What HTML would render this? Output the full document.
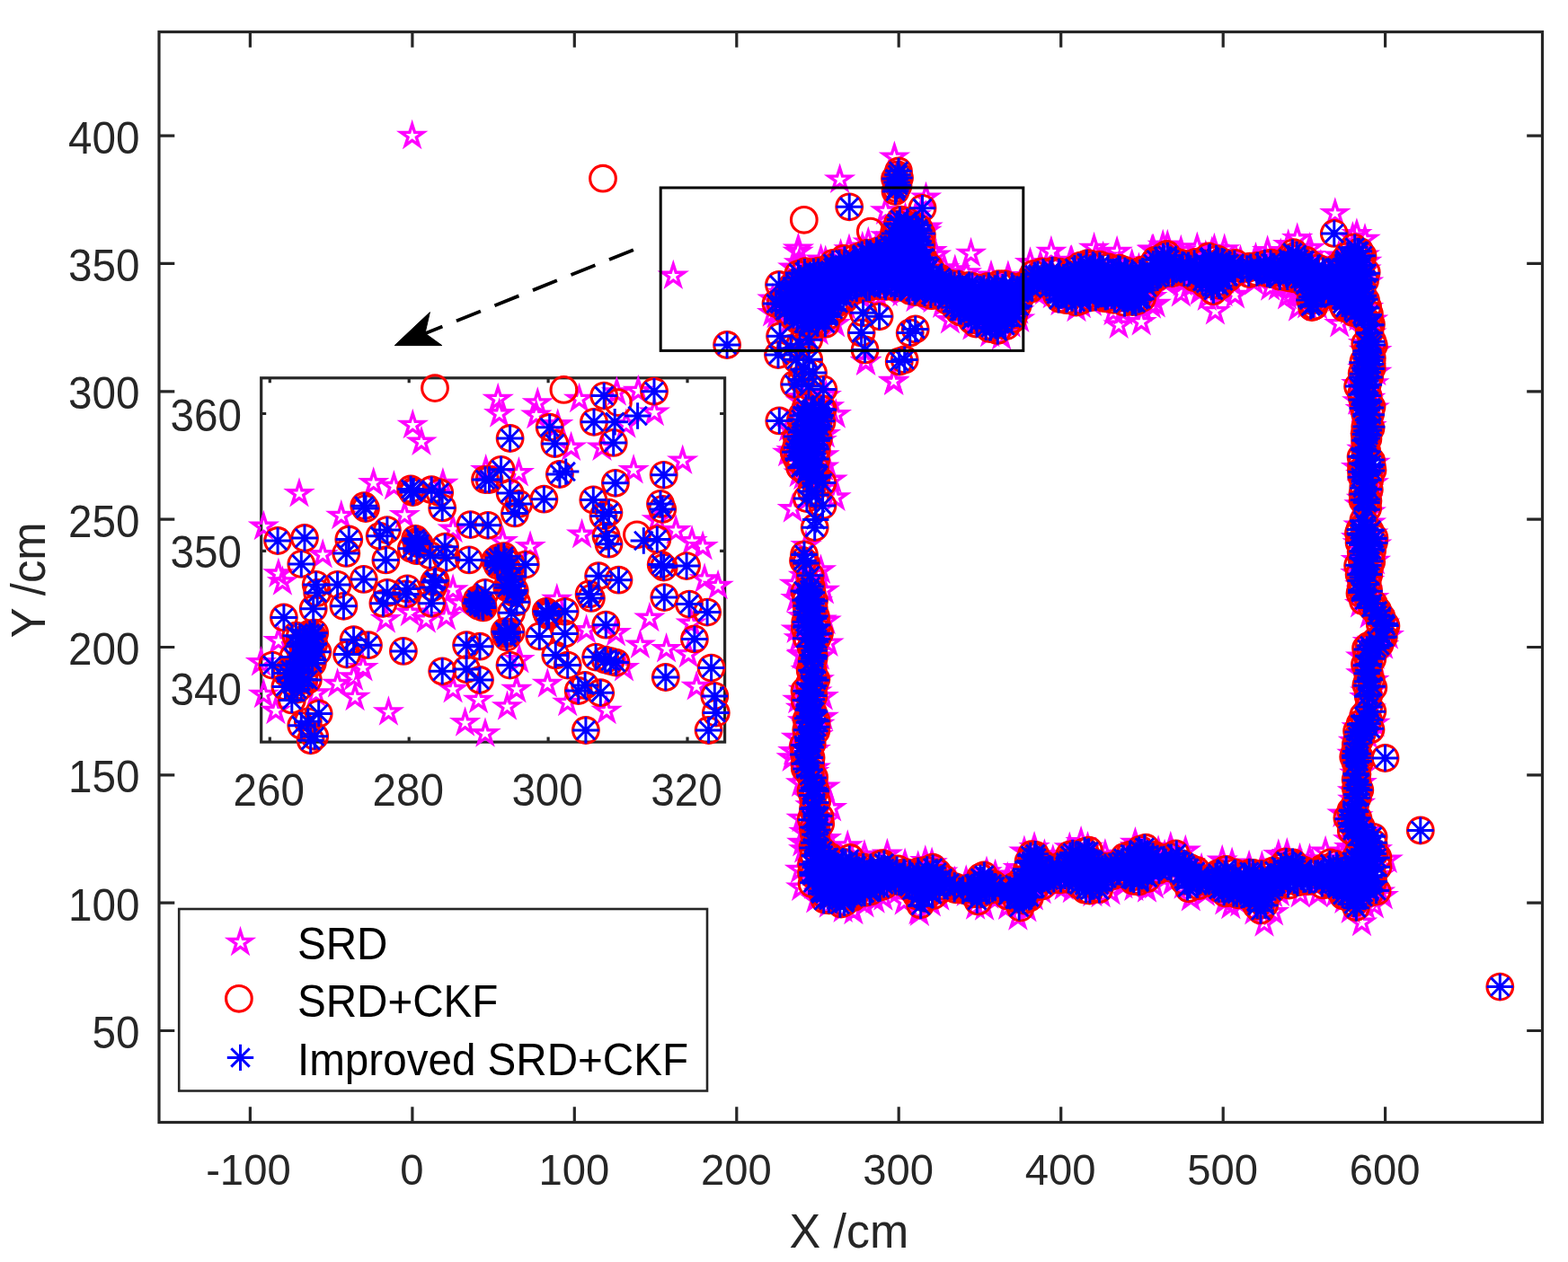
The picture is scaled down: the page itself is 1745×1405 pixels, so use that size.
<!DOCTYPE html>
<html lang="en"><head><meta charset="utf-8"><title>Trajectory comparison: SRD, SRD+CKF, Improved SRD+CKF</title>
<style>html,body{margin:0;padding:0;background:#fff;overflow:hidden}svg{display:block}text{font-family:"Liberation Sans",Arial,Helvetica,sans-serif}</style></head><body>
<svg width="1745" height="1405" viewBox="0 0 1745 1405" role="img" aria-label="Scatter plot of X /cm versus Y /cm comparing SRD, SRD+CKF and Improved SRD+CKF with zoomed inset">
<rect x="0" y="0" width="1745" height="1405" fill="#fff"/>
<marker id="mS" markerUnits="userSpaceOnUse" markerWidth="1" markerHeight="1" refX="0" refY="0" overflow="visible" orient="0"><path d="M0.0 -13.0L2.9 -4.0L12.4 -4.0L4.7 1.5L7.6 10.5L0.0 5.0L-7.6 10.5L-4.7 1.5L-12.4 -4.0L-2.9 -4.0Z" fill="none" stroke="#ff00ff" stroke-width="3.4" stroke-linejoin="miter"/></marker><marker id="mC" markerUnits="userSpaceOnUse" markerWidth="1" markerHeight="1" refX="0" refY="0" overflow="visible" orient="0"><circle cx="0" cy="0" r="14.35" fill="none" stroke="#ff0000" stroke-width="3.1"/></marker><marker id="mA" markerUnits="userSpaceOnUse" markerWidth="1" markerHeight="1" refX="0" refY="0" overflow="visible" orient="0"><path d="M-14.7 0H14.7M0-14.7V14.7M-10.2-10.2L10.2 10.2M-10.2 10.2L10.2-10.2" fill="none" stroke="#0000ff" stroke-width="3"/></marker>
<g id="main-data">
<polyline fill="none" stroke="none" marker-start="url(#mS)" marker-mid="url(#mS)" marker-end="url(#mS)" points="458.7,151.4 749.3,307.2 882.3,566.8 930,554.0 897,607.7 913.5,635.0 995.4,175.1 934.6,200.1 1080.6,282.4 1169.9,280.4 888.1,280.4 1030.5,220.2 966.3,270.3 963.6,402.5 994.7,424.5 888.4,277.1 1485.8,237.7 1443.7,265.7 1509.9,260.7 1294.2,273.4 1243.1,280.4 1217.6,276.4 1332.3,276.0 1351.4,277.4 1314.3,279.4 1282.2,278.4 1380.5,290.4 1408.6,289.4 1352.4,346.6 1245.1,362.2 1270.2,358.6 1432.6,329.5 1490.8,360.6 1314.3,326.5 1374.5,328.5 1286.2,338.5 994.7,425.1 963.6,403.0 864.3,350.4 878.3,359.3 898.7,373.0 904.1,367.0 911.2,369.0 929.6,360.7 938.4,338.9 941.5,340.9 958.6,330.0 977.5,330.4 988.3,326.0 1003.9,326.4 1019,332.4 1024.8,329.0 1038.1,333.3 1048.7,339.1 1057.4,356.7 1082,363.5 1084.1,362.3 1101.7,371.3 1114.6,374.6 1125.1,360.8 1134.7,355.2 1133.8,345.9 1154,326.5 1162.5,324.4 1171.4,328.4 1180,336.4 1198,343.4 1203.3,339.4 1215.4,337.1 1230.5,333.4 1239,347.3 1249.9,347.0 1271.6,343.3 1281.4,339.8 1281.8,330.7 1294,311.6 1300.2,312.8 1316.2,314.5 1323.7,318.1 1335.1,324.9 1343.3,331.1 1361,326.0 1371.8,315.5 1376.3,303.8 1395.7,313.9 1413.7,319.8 1422.3,319.7 1439.2,320.5 1442.2,326.1 1444.5,342.9 1500.6,935.0 1501.7,943.6 1489,956.1 1475.1,948.3 1460.6,961.7 1457.5,956.9 1446.6,956.4 1432.3,950.6 1422.8,951.7 1418.8,961.2 1404.4,964.9 1390.1,964.2 1371.1,961.1 1360.2,958.3 1351.1,971.8 1337.1,967.2 1324.3,961.0 1319.3,947.3 1302.8,943.4 1296.1,952.4 1289.1,947.8 1263.4,942.8 1263.4,938.5 1252.3,951.9 1229.9,951.5 1216,953.0 1210.5,943.5 1203.1,937.6 1190.3,944.0 1190.4,952.3 1171.8,957.8 1162.4,951.8 1151.1,943.6 1139.9,948.1 1133.3,966.8 1130.6,975.7 1121.2,977.3 1107.6,974.2 1098,971.0 1083.6,981.4 1075.2,980.8 1062.3,982.0 1048.7,971.2 1037.1,961.0 1029.8,958.7 1021.7,964.7 1007.1,962.1 989.1,965.2 987.4,951.3 962,952.5 961.9,963.1 943.3,941.9 927.8,950.1 916.2,935.2 919.4,933.8 915.9,915.5 925.6,899.7 910.3,880.1 918.1,876.1 905.6,859.8 907.3,855.3 907.2,834.6 910.1,818.6 911.9,806.5 916.3,798.4 916.2,775.8 908.9,770.2 911.3,757.0 909.2,733.1 912.4,730.9 922,716.1 919.1,691.3 914.2,690.1 909.4,669.8 917.4,657.5 906.9,639.2 894.5,641.5 884.3,650.5 885.9,666.6 892.7,686.7 886.2,701.1 889.3,711.0 892.2,729.7 892.5,728.5 897.2,746.7 894.4,768.4 887.8,779.4 891.4,788.4 893.6,803.0 886.4,821.5 882.8,836.6 881.2,844.0 891.8,854.5 891.6,872.0 899.9,888.6 902,897.0 892.1,911.4 895,926.7 892.8,938.5 894.7,945.9 890.5,968.4 891.7,988.2 905.5,986.2 907.8,1001.5 922.3,1006.9 938.2,1012.0 949.9,1014.3 962,1006.5 974,1001.8 982.9,998.9 1000.1,992.0 1006.2,1003.9 1022.1,1014.4 1023.4,1016.0 1036.3,1005.6 1045.8,998.8 1063.3,990.4 1075.2,994.2 1085.6,1008.9 1095.6,1009.8 1100.8,996.8 1121.6,1009.1 1132.9,1020.8 1142.9,1011.7 1150.3,998.7 1159.1,991.4 1176.8,986.5 1184.2,987.0 1193.4,990.3 1215.9,994.4 1225.1,995.4 1236,992.6 1249.9,985.5 1261.9,988.2 1276.5,989.8 1284.5,985.6 1291.6,974.0 1304.8,982.1 1317.2,985.9 1325.3,999.6 1341,990.1 1341.4,994.1 1362.8,1003.6 1369.8,1008.3 1379.8,1005.6 1395.9,1014.7 1407,1027.9 1417.5,1015.7 1416.7,995.3 1424.4,994.1 1447.1,995.6 1462.1,984.4 1466.9,995.4 1486.6,995.2 1495.9,1002.2 1503.2,1013.0 1515.5,1027.3 1519.7,1008.8 1529.4,1007.7 1539.3,997.6 1535.6,993.1 1534.9,974.5 1544.2,957.1 1532.4,946.0 1520.7,291.5 1518.4,284.2 1519,266.5 1505.4,264.5 1489.9,285.1 1490.7,290.5 1469.9,295.6 1458.5,284.6 1457.7,276.5 1433.7,272.7 1425.3,283.1 1410.6,279.7 1397.5,287.6 1395.9,291.3 1376,291.0 1362.7,277.9 1348.8,281.0 1341.8,285.0 1325.1,290.4 1313.9,286.3 1299.3,273.4 1283.5,278.3 1280.1,291.0 1267.4,299.0 1259.7,294.2 1245.9,293.9 1227.6,286.2 1219.8,284.9 1192.6,290.5 1191.4,291.0 1176.6,293.1 1157.8,295.6 1146.5,292.8 1138.1,310.1 1134.5,317.5 1121.9,307.8 1103,307.3 1085.6,317.9 1075.3,303.9 1062.8,301.0 1050.8,298.9 1041.4,284.1 1037.1,279.8 1030.9,257.4 1032,253.2 1019.3,239.9 1007.5,243.0 985.6,235.0 994.3,251.4 985.7,263.0 975.3,275.1 959.8,275.2 945,278.0 935.6,283.6 918.7,291.1 913.6,289.2 889.4,292.9 882.8,298.3 884,308.1 871.3,326.5 859.9,333.1 859.6,348.6 891.3,446.9 888,461.5 877.6,476.6 881.1,502.0 876.6,504.4 889.2,527.3 893.8,530.4 906.6,540.9 907.4,535.7 926.1,534.3 916.7,520.3 917,506.9 914.2,490.7 918.4,483.6 930.3,461.8 922.6,453.0 919.3,440.6 892.4,443.0 1457,333.2 1454.6,339.5 1466.5,340.5 1472.7,325.9 1488.5,332.2 1502.4,346.0 1512,353.5 1518.2,369.4 1517.5,382.7 1518.4,390.4 1517,410.8 1509.8,427.6 1510.7,446.9 1514.3,455.7 1518.5,466.0 1519.8,487.6 1515.9,500.4 1509.6,520.7 1514.7,528.8 1515.4,555.5 1513,562.0 1512,585.1 1509.5,599.0 1511.2,605.0 1509.2,623.7 1508.9,638.7 1513.8,651.9 1513.6,672.7 1524.1,684.6 1540.5,694.3 1527,713.4 1522.3,714.7 1514.7,731.3 1514.8,750.0 1519.9,770.3 1518.8,776.7 1518.4,799.5 1510.1,810.0 1506.4,825.5 1505,839.4 1507.7,861.4 1505.5,881.0 1505.7,890.4 1494,906.1 1503.2,921.6 1505.1,926.7 1521.7,925.8 1510.8,909.0 1513.7,894.5 1515.2,871.8 1514.8,859.9 1512.3,844.8 1510.4,831.6 1522.3,818.6 1530,805.4 1525.3,789.2 1525.9,770.1 1528.8,757.8 1529.9,735.7 1530.1,730.1 1539.6,718.8 1545.4,707.8 1534.9,684.7 1528.8,665.8 1521.8,657.4 1523.7,646.6 1530.4,624.5 1531.7,606.2 1527.7,594.2 1525.5,582.1 1525.3,570.2 1522.6,545.0 1528.4,537.9 1530.1,515.4 1520.3,498.8 1523.1,488.0 1526.1,474.6 1529.2,454.2 1524.9,443.5 1528.8,427.0 1531.8,414.4 1531.8,390.7 1525.8,371.3 1527.6,356.1 1522.6,342.7 1517,333.2 1522.6,314.2 1520,300.2"/>
<polyline fill="none" stroke="none" marker-start="url(#mC)" marker-mid="url(#mC)" marker-end="url(#mC)" points="894.8,244.8 968.8,257.6 671,198.7 809.1,384.0 867.3,468.4 1541.5,844.0 1580.8,924.5 1669.3,1098.6 999,194.5 998,203.0 997.5,210.0 1001,198.0 996,199.0 999.5,206.5 996.5,213.0 1000,190.5 945.2,230.3 1026.5,231.8 1484.8,259.9 960.6,348.3 978.6,352.3 958.6,370.4 962.6,389.4 1018.7,366.4 1012.7,370.4 1006.7,400.5 1000.7,402.5 897.9,555.1 915.5,537.5 915.5,562.9 906.7,587.2 894,624.2 895,617.5 897,627.0 901.8,640.8 903,547.0 908,551.0 868.1,374.2 863.5,338.1 867,317.0 890.2,383.2 900.2,378.2 866,395.0 886.2,400.3 894.2,411.3 900.2,400.3 892.2,422.4 916.3,433.4 900,430.0 880,388.0 905,415.0 884,428.0 868.8,337.8 874.3,345.6 881.7,352.2 887.7,356.6 893.7,359.6 902,362.9 910.3,359.8 918.9,360.7 921.9,351.5 928.5,345.0 932.2,337.2 940.1,333.2 944.1,322.5 954,322.6 964.1,319.4 968,319.6 978,318.4 987,318.8 995.4,319.5 1002.1,319.8 1013.2,323.9 1018.4,325.1 1028.3,326.4 1037,329.2 1044.9,327.8 1053.7,334.6 1062.1,340.9 1067.5,346.7 1069.7,347.7 1081.4,356.5 1086.1,360.5 1098.5,363.4 1101.4,366.0 1109.9,367.9 1119.9,363.1 1126.9,355.4 1128.1,350.8 1132.6,340.3 1134.9,332.3 1140.6,324.3 1146.9,321.7 1153.6,315.1 1166.1,312.7 1169.4,318.7 1176,328.6 1179.3,332.7 1187.1,334.2 1197.6,336.6 1202.8,334.7 1213.7,331.2 1218.8,330.3 1229.5,332.2 1233.3,330.8 1239.1,333.8 1250.9,336.6 1260.4,336.0 1264.6,335.5 1271.1,331.7 1271.8,323.8 1277.6,318.4 1283.1,311.5 1288.8,308.0 1299.5,303.8 1304.4,304.3 1319,303.4 1322.1,304.5 1329.3,309.2 1338.9,313.7 1341.7,316.8 1350.3,324.2 1357.9,318.0 1360.4,313.9 1367.4,309.2 1373,304.5 1382,299.0 1390.3,305.0 1397.6,303.2 1410.6,304.3 1413.7,305.0 1425.1,307.9 1434.1,309.3 1440.7,310.4 1447.3,311.6 1452.5,316.3 1459.1,329.8 1458.3,334.8 1460,342.1 1462.6,340.8 1465.3,333.2 1470.9,325.4 1477.3,325.4 1485.4,329.5 1494.2,339.4 1495.8,343.0 1506.3,348.2 1514.5,351.1 1517.9,353.7 1525.9,361.0 1524.5,369.6 1519.3,382.5 1521.1,390.9 1520.6,395.7 1517.4,402.6 1515.7,415.4 1517.5,420.5 1511.1,430.2 1515.1,438.2 1516.1,444.2 1517.6,452.9 1519.3,461.1 1521.9,467.8 1525.2,460.5 1526.5,452.9 1523.5,447.6 1522.5,440.9 1522,427.3 1524.2,419.0 1526.7,409.8 1526.5,404.3 1526.8,398.6 1528.8,384.8 1527.6,380.4 1523.7,369.2 1524.8,363.1 1523.9,349.3 1522.1,341.8 1520,334.3 1516.4,328.9 1515.7,319.8 1519,312.5 1520.7,302.9 1515.4,294.4 1516.5,284.4 1513.3,279.8 1506.5,275.3 1499.1,285.2 1496,289.6 1488.2,297.9 1481.2,303.8 1471.7,301.7 1466.8,298.3 1459.1,294.3 1453.3,289.6 1442.4,284.3 1439.7,281.1 1435.1,286.8 1426.8,293.6 1414.8,292.7 1408.5,293.9 1398.9,295.9 1390.7,296.7 1389.1,298.8 1374.8,292.8 1366.8,294.7 1359.2,290.8 1354.6,288.5 1345.1,285.5 1338.5,293.2 1330.4,292.0 1322.3,295.2 1314.7,293.0 1307.6,290.9 1298.5,283.0 1294.8,285.4 1285.7,289.6 1283.3,293.2 1270.7,300.6 1268.4,304.1 1260.1,304.6 1251.8,300.9 1245.8,298.7 1233.7,297.4 1223.9,294.7 1215,294.2 1210.5,293.2 1202.5,295.6 1195.2,300.1 1188,305.2 1179.2,302.6 1172.1,301.7 1159.6,302.4 1150.2,304.8 1151.2,311.2 1140.8,317.9 1136.8,318.7 1125.2,318.9 1117.9,316.2 1111.6,316.2 1099.3,318.9 1095.9,320.8 1082.9,319.1 1078.4,318.0 1065.9,316.3 1057.6,315.6 1050.4,313.1 1045.8,309.5 1037.5,302.6 1034,296.8 1027.4,287.1 1024.9,277.0 1025.4,271.8 1025.9,261.1 1022.7,254.0 1018.6,251.3 1009.5,246.1 1002.5,244.7 998.7,249.3 995,259.1 996.5,267.8 989.1,271.9 986.5,277.0 976.6,279.7 965.6,281.6 959,284.3 951.1,287.3 938.7,287.9 933.2,293.0 927.3,292.8 920,299.5 911.2,301.7 906.6,302.8 896.2,302.1 888.2,305.2 885.9,314.4 881,318.7 876.4,326.2 872.5,333.6 1519,500.7 1514.6,508.8 1515.1,517.2 1514.9,524.0 1515.3,530.2 1517.3,541.9 1516.5,549.6 1516.6,557.4 1522.1,566.1 1519.6,558.4 1522.4,557.5 1523.8,545.3 1524.1,534.8 1527.5,523.5 1526.7,517.3 1526.2,513.1 1521.1,501.7 1517.4,579.2 1513.2,589.9 1512,593.8 1512.6,604.3 1514.7,614.5 1515.6,623.0 1511.1,629.5 1512.6,639.6 1515.1,647.0 1514.6,655.6 1513.5,660.6 1517,669.3 1527,676.6 1533.8,685.2 1537.4,686.8 1533.3,679.5 1528.8,671.9 1522,665.1 1523.1,657.3 1521.7,649.1 1523.2,640.3 1524.2,630.5 1526.2,625.4 1527.1,613.2 1528.8,604.3 1529.4,598.5 1524.9,591.3 1518,585.0 1536.9,709.7 1530.8,713.6 1523.5,718.6 1520.1,721.7 1521.4,729.5 1519,739.8 1522,748.7 1522.1,757.7 1520.5,762.7 1522.9,774.3 1522.9,775.6 1528.3,765.6 1525.9,757.3 1523.5,747.7 1523.3,738.2 1527.2,733.8 1532.1,720.4 1535.6,717.5 1539.8,709.3 1523.3,787.0 1517.3,796.5 1513.7,805.7 1510.1,813.9 1511,820.1 1508.9,828.5 1512.8,824.2 1515.7,817.0 1525.5,812.3 1523.2,801.9 1527.3,792.0 1510.4,861.7 1508.7,868.1 1508.9,878.3 1510.4,885.5 1507.2,897.4 1503.3,902.4 1499.4,910.4 1503.7,916.4 1503.8,925.0 1510.4,930.8 1516.3,940.2 1512.6,946.8 1508.4,954.9 1504.4,960.7 1497.7,964.2 1486.1,962.0 1480.2,960.4 1471.4,966.7 1467.4,970.4 1459.3,972.3 1450.3,968.3 1441.8,963.4 1439,960.3 1430.9,959.4 1425.9,965.2 1417.7,969.1 1413.7,974.8 1403.6,972.9 1394.7,971.8 1391,971.6 1383.4,974.5 1374.1,971.4 1364,968.0 1355.6,972.1 1353.6,974.4 1343.3,978.5 1332.7,976.0 1331.6,969.0 1324.1,966.0 1316.5,961.7 1308.5,950.4 1302.1,953.7 1295.6,956.6 1288.9,954.2 1284.1,951.7 1275.1,943.7 1268.8,945.6 1257,951.8 1251.2,954.0 1244.4,961.8 1236.3,964.4 1230,964.8 1222.4,963.4 1216.6,959.7 1211.8,946.6 1207.5,947.9 1194.3,950.8 1190.2,951.7 1187.3,960.6 1179.7,964.2 1168.4,967.7 1161.3,962.2 1152.5,953.7 1152.7,951.9 1148,951.2 1144.6,958.9 1142.9,968.1 1137.6,978.9 1129.4,986.1 1123.6,989.1 1112.9,990.5 1107.4,985.8 1105.1,984.0 1095,974.4 1091.1,976.5 1085.4,985.6 1076.5,988.8 1072.4,991.0 1082.7,995.4 1088.5,1003.4 1090.5,995.5 1098.4,991.6 1103.8,990.5 1114.5,990.6 1121.5,997.8 1130.7,1000.7 1135.6,1010.6 1139.3,1002.5 1145.8,999.6 1152.2,988.1 1159.7,986.6 1165.8,979.3 1171.8,979.4 1179.4,979.6 1190.2,979.3 1201,985.4 1207.5,990.7 1212.6,991.6 1223.3,989.9 1225.4,980.6 1230.3,977.4 1238.2,975.2 1251.3,973.6 1259.5,976.8 1261.4,980.8 1267.4,981.5 1276.4,978.2 1282.2,969.9 1289,968.8 1303.9,966.7 1308.3,968.3 1315.3,973.6 1317.5,980.7 1322.9,989.3 1333.6,986.2 1343.3,982.1 1346.8,980.6 1357.2,989.4 1363.6,994.4 1372.1,994.0 1377.8,996.3 1382.9,995.4 1391.6,999.4 1398.4,1008.6 1403,1013.4 1407.3,1007.0 1406.6,998.8 1415.1,991.3 1419.1,983.6 1426.8,983.3 1434.7,985.5 1444.7,982.2 1456.2,981.1 1460,979.3 1472.4,985.4 1479.5,984.3 1489.2,989.5 1494.7,997.3 1499,998.6 1507.1,1005.2 1509.1,1010.0 1509.8,1002.0 1515.3,997.3 1524.6,993.9 1532.6,992.3 1528.1,981.8 1527.8,975.8 1533.5,965.3 1533.5,954.6 1529.9,949.7 1528.5,938.6 1528.6,931.8 1515.1,925.8 1514.9,920.4 1511.4,911.1 1507.2,902.4 1508.1,895.9 1511.1,887.3 1513.3,879.6 1511,873.0 1509.9,862.3 1055.7,984.2 1049.5,977.6 1043.5,971.3 1038,965.7 1030.9,968.6 1022.9,969.9 1011,972.1 1007.2,970.9 999.1,967.4 988.4,968.7 982.4,961.1 979.5,962.2 968.6,966.4 961.1,965.3 953.1,965.0 946.2,955.0 938.8,959.9 929.8,959.4 923.7,953.6 916.5,948.2 911.9,943.6 908.4,934.1 908.9,924.5 913.2,917.3 912.4,909.1 905.4,897.9 909,892.5 905,901.9 902.8,912.0 904.8,922.2 905.6,927.8 907.2,939.0 904.5,943.0 905.6,952.6 903.2,962.3 903,971.8 905.3,974.5 903.6,983.9 915.3,994.2 917.5,1001.6 922.6,1002.3 935.9,1006.6 940,1004.8 949.2,999.2 951.2,996.3 962.1,993.9 968.7,992.6 980,987.5 984.7,985.4 997.4,980.3 1000.7,981.6 1013.6,986.0 1014.6,989.8 1020.4,997.5 1024.2,1007.3 1029.2,1000.1 1038.8,997.0 1046.2,990.7 1052.4,987.0 906.1,865.3 901.9,857.8 902.2,849.6 902.6,843.4 902,831.3 903.7,828.0 908.2,814.0 908.6,808.4 908.6,802.5 905.2,793.4 902.8,778.5 905.5,775.0 906,762.4 908.4,756.4 905,747.2 901.7,746.6 906,753.4 900.8,761.5 895.5,769.1 895.8,780.4 900.9,790.3 897.6,801.0 898.9,804.4 897.3,812.5 899.8,822.9 894.1,829.5 895.1,839.7 895.5,850.4 895.8,855.5 901.9,864.1 905.4,723.7 909.4,710.4 912,704.9 909.1,696.4 908,686.5 905.7,676.5 906,668.4 903.6,659.8 902.8,653.2 895.5,658.9 897.1,667.6 897.7,674.9 898.3,681.0 896.2,692.6 895.9,699.4 897.9,710.6 902.7,720.4 890.1,520.2 897.3,526.2 904.3,532.3 908.7,531.4 908.7,529.0 906.9,519.8 908.3,512.1 908.8,500.4 909.6,491.5 910.8,488.9 910.5,473.9 914.5,470.0 915.7,455.2 914.6,455.6 905.5,455.6 896.9,452.9 892.9,461.7 891.1,467.1 891.4,481.6 886.6,486.3 886.2,497.8 883.8,504.2 886.9,510.8 1519.3,475.3 1522.2,478.5 1518.7,483.1 1519.1,491.0 1535.8,695.1 1508.2,836.3 1506.2,842.5 1509,842.2 1508.3,848.2 1063.4,987.3 907.6,880.1 906.7,879.2 905.6,733.0 905.6,729.7 905.3,729.6 903.5,736.7 906.8,877.4 902.5,880.2 904.5,886.0 1063.5,990.3 1513.1,848.0 1512.9,842.8 1509.9,839.2 1542.4,697.0 1541.5,695.0 1522.4,488.4 1522.5,484.0 1523.1,477.6 1525.5,476.7"/>
<path fill="#0000ff" stroke="none" fill-rule="evenodd" d="M1532.0 721.4L1532.3 721.1L1532.5 720.8L1532.7 720.5L1532.8 720.1L1532.9 719.7L1533.0 719.4L1533.1 719.0L1533.1 718.6L1533.0 718.2L1533.0 717.8L1532.9 717.4L1532.7 717.1L1532.6 716.7L1532.3 716.4L1532.1 716.1L1531.8 715.8L1531.5 715.6L1531.2 715.3L1530.9 715.1L1530.5 715.0L1530.2 714.9L1529.8 714.8L1529.4 714.7L1529.0 714.7L1528.6 714.7L1528.2 714.8L1527.9 714.9L1527.5 715.0L1522.1 717.3L1521.8 717.5L1521.4 717.7L1521.1 718.0L1520.8 718.3L1520.5 718.6L1520.3 719.0L1519.9 719.7L1519.7 720.0L1519.5 720.4L1519.4 720.8L1519.3 721.2L1519.3 721.6L1519.3 722.0L1519.4 722.4L1520.2 727.5L1520.2 727.5L1520.3 727.9L1520.4 728.3L1520.5 728.6L1520.7 729.0L1520.9 729.3L1521.1 729.6L1521.4 729.9L1521.7 730.2L1522.0 730.4L1522.3 730.6L1522.7 730.8L1523.0 730.9L1523.4 731.0L1523.8 731.0L1524.2 731.1L1524.6 731.1L1524.9 731.0L1525.3 730.9L1525.7 730.8L1526.0 730.6L1526.4 730.4L1526.7 730.2L1527.0 729.9L1527.2 729.7L1527.5 729.4L1527.7 729.0L1527.9 728.7L1528.0 728.3L1528.3 727.4L1528.8 726.0L1529.5 724.8L1530.2 723.6L1531.1 722.4ZM1509.5 903.0L1509.5 902.6L1509.5 902.2L1509.4 901.9L1509.3 901.5L1509.1 901.1L1508.9 900.8L1508.7 900.5L1508.5 900.2L1508.2 899.9L1507.9 899.7L1507.6 899.4L1507.2 899.3L1506.9 899.1L1506.5 899.0L1506.1 898.9L1505.7 898.9L1505.3 898.9L1504.9 899.0L1504.5 899.0L1504.2 899.1L1503.8 899.3L1503.5 899.5L1503.2 899.7L1502.9 899.9L1502.6 900.2L1502.3 900.5L1502.1 900.8L1501.6 901.6L1501.5 901.9L1499.9 905.0L1499.8 905.4L1499.7 905.8L1499.6 906.2L1499.5 906.6L1499.5 907.0L1499.6 907.4L1499.6 907.8L1500.6 911.7L1500.8 912.2L1504.0 920.3L1504.2 920.6L1507.3 926.9L1507.5 927.3L1510.9 932.3L1511.6 933.6L1512.3 934.9L1512.7 936.2L1513.1 937.6L1513.3 939.0L1513.4 940.5L1513.4 941.9L1513.2 943.3L1512.9 944.7L1512.4 946.1L1511.8 947.5L1507.9 955.3L1507.1 956.7L1506.3 957.9L1505.3 959.0L1504.2 960.0L1503.1 960.9L1501.8 961.7L1500.5 962.4L1499.2 962.9L1497.7 963.3L1496.3 963.6L1494.8 963.7L1493.3 963.7L1491.9 963.5L1490.5 963.2L1489.1 962.7L1487.6 962.1L1485.2 960.9L1484.8 960.7L1484.5 960.6L1483.3 960.2L1482.9 960.1L1482.5 960.1L1482.2 960.1L1481.8 960.1L1481.4 960.1L1481.0 960.2L1480.7 960.3L1480.3 960.5L1479.8 960.7L1479.4 961.0L1479.1 961.2L1478.8 961.5L1473.0 967.3L1471.9 968.3L1470.7 969.2L1469.5 969.9L1468.2 970.5L1466.8 971.0L1465.4 971.4L1464.0 971.6L1462.6 971.7L1461.1 971.7L1459.7 971.5L1458.3 971.2L1456.9 970.7L1455.5 970.1L1447.7 966.2L1446.2 965.4L1445.0 964.5L1443.8 963.5L1442.7 962.2L1437.9 956.4L1437.6 956.1L1437.3 955.9L1437.0 955.6L1436.7 955.4L1436.3 955.3L1435.9 955.2L1435.6 955.1L1435.2 955.0L1434.8 955.0L1434.4 955.0L1434.0 955.1L1433.6 955.2L1433.3 955.3L1432.9 955.5L1432.6 955.7L1432.2 955.9L1432.0 956.2L1429.5 958.6L1429.3 958.9L1421.9 968.0L1420.9 969.2L1419.9 970.2L1418.7 971.1L1417.5 971.8L1416.2 972.5L1414.8 973.0L1413.4 973.4L1412.0 973.6L1410.5 973.7L1409.0 973.7L1407.6 973.5L1406.2 973.2L1404.8 972.7L1403.4 972.1L1398.4 969.6L1398.0 969.4L1397.7 969.3L1397.3 969.2L1396.9 969.2L1396.5 969.2L1396.2 969.2L1394.3 969.4L1393.9 969.4L1393.5 969.5L1393.2 969.7L1385.7 972.6L1384.3 973.1L1382.9 973.5L1381.5 973.7L1380.1 973.7L1378.7 973.7L1377.3 973.5L1375.9 973.1L1374.4 972.6L1364.5 968.7L1362.9 968.0L1362.5 967.9L1362.1 967.8L1361.7 967.7L1361.4 967.7L1361.0 967.7L1360.6 967.8L1360.2 967.9L1359.9 968.0L1359.5 968.2L1359.2 968.4L1358.9 968.6L1358.6 968.9L1358.3 969.1L1358.1 969.5L1357.3 970.7L1356.3 971.9L1355.4 972.9L1354.3 973.9L1353.1 974.7L1351.9 975.5L1350.6 976.1L1349.3 976.6L1348.6 976.7L1348.2 976.9L1347.9 977.0L1347.5 977.2L1347.2 977.4L1346.9 977.7L1346.6 978.0L1346.3 978.3L1346.1 978.6L1346.0 979.0L1345.8 979.4L1345.7 979.7L1345.6 980.1L1345.6 980.5L1345.6 980.9L1345.7 981.3L1345.8 981.7L1345.9 982.1L1346.1 982.5L1346.3 982.8L1346.5 983.1L1346.8 983.4L1347.1 983.7L1347.4 983.9L1347.7 984.1L1348.1 984.3L1349.2 984.8L1350.6 985.5L1351.8 986.3L1353.0 987.3L1354.1 988.4L1357.0 991.6L1357.2 991.9L1357.5 992.1L1357.8 992.4L1358.1 992.5L1358.5 992.7L1358.8 992.8L1359.2 992.9L1362.9 993.6L1364.3 994.0L1365.7 994.5L1372.2 997.1L1372.6 997.2L1373.0 997.3L1373.3 997.4L1373.7 997.4L1380.0 997.4L1381.5 997.5L1383.0 997.7L1384.4 998.0L1385.7 998.5L1387.0 999.1L1388.3 999.8L1389.5 1000.7L1399.4 1008.6L1400.6 1009.7L1400.9 1009.9L1401.2 1010.1L1401.6 1010.3L1401.9 1010.4L1402.3 1010.5L1402.7 1010.6L1403.1 1010.7L1403.4 1010.6L1403.8 1010.6L1404.2 1010.5L1404.6 1010.4L1404.9 1010.3L1405.3 1010.1L1405.6 1009.9L1405.9 1009.6L1406.2 1009.4L1406.4 1009.1L1406.6 1008.8L1406.8 1008.4L1407.0 1008.1L1407.1 1007.7L1407.2 1007.3L1407.4 1006.0L1407.7 1004.4L1408.2 1003.0L1408.8 1001.6L1412.8 993.7L1413.5 992.3L1414.4 991.1L1415.4 990.0L1416.5 988.9L1417.7 988.0L1419.0 987.2L1420.3 986.5L1421.8 986.0L1423.2 985.7L1424.7 985.4L1426.3 985.3L1437.5 985.3L1437.8 985.3L1447.1 984.6L1447.5 984.5L1447.9 984.4L1455.9 982.0L1457.4 981.6L1458.9 981.4L1460.3 981.3L1461.8 981.4L1463.4 981.6L1473.2 983.6L1474.9 984.1L1476.5 984.7L1478.2 985.5L1488.0 991.4L1489.5 992.4L1497.3 998.3L1498.5 999.3L1499.4 1000.2L1500.3 1001.3L1501.2 1002.5L1503.8 1006.7L1504.0 1007.0L1504.3 1007.3L1504.6 1007.6L1504.9 1007.9L1505.2 1008.1L1505.6 1008.2L1506.0 1008.4L1506.3 1008.5L1506.7 1008.6L1507.1 1008.6L1507.5 1008.6L1507.9 1008.5L1508.3 1008.4L1508.7 1008.3L1509.1 1008.1L1509.4 1007.9L1509.7 1007.7L1510.0 1007.4L1510.3 1007.1L1510.5 1006.8L1510.7 1006.4L1510.8 1006.2L1511.5 1004.9L1512.2 1003.7L1513.1 1002.6L1514.0 1001.6L1515.1 1000.7L1516.3 999.8L1522.1 995.9L1523.5 995.1L1524.8 994.5L1526.2 994.0L1527.6 993.7L1527.7 993.6L1528.0 993.6L1528.4 993.5L1528.8 993.3L1529.1 993.1L1529.4 992.9L1529.7 992.7L1530.0 992.4L1530.3 992.1L1530.5 991.8L1530.7 991.5L1530.8 991.1L1530.9 990.7L1531.0 990.4L1531.1 990.0L1531.1 989.6L1531.1 989.2L1531.0 988.8L1530.9 988.5L1530.7 988.1L1530.5 987.6L1530.0 986.1L1529.7 984.5L1529.6 983.0L1529.6 981.4L1529.8 979.7L1531.6 968.6L1531.7 968.2L1532.4 959.8L1532.4 959.4L1532.4 959.0L1532.3 958.6L1529.9 947.5L1529.6 945.1L1528.9 935.0L1528.8 934.6L1528.7 934.2L1528.6 933.8L1528.4 933.5L1527.6 931.8L1527.4 931.4L1527.2 931.1L1527.0 930.8L1526.7 930.6L1526.4 930.3L1526.1 930.1L1520.9 927.0L1519.6 926.2L1518.6 925.3L1517.6 924.3L1516.7 923.3L1515.9 922.1L1515.2 920.9L1514.5 919.6L1510.6 909.7L1510.1 908.4L1509.8 907.0L1509.6 905.7L1509.5 904.3ZM1521.1 583.0L1520.9 582.6L1520.6 582.3L1520.4 582.0L1520.1 581.8L1519.8 581.5L1519.4 581.3L1519.1 581.2L1518.7 581.0L1518.3 580.9L1518.0 580.9L1517.6 580.9L1517.2 580.9L1516.8 580.9L1516.4 581.0L1516.0 581.1L1515.7 581.3L1515.4 581.5L1515.0 581.7L1514.7 582.0L1514.5 582.2L1514.2 582.6L1512.3 585.3L1512.1 585.6L1511.9 586.0L1511.8 586.3L1511.7 586.7L1511.6 587.0L1510.7 593.2L1510.7 593.6L1510.7 593.9L1510.7 594.3L1510.8 594.6L1513.1 605.3L1513.3 606.7L1514.3 614.6L1514.4 616.3L1514.4 617.9L1514.1 619.6L1512.6 627.0L1512.6 627.3L1512.6 627.7L1512.6 628.1L1513.4 639.5L1513.4 639.7L1514.4 655.6L1514.4 656.7L1514.4 664.2L1514.4 664.6L1514.5 664.9L1514.6 665.3L1514.7 665.6L1514.8 666.0L1516.1 668.4L1516.3 668.8L1516.5 669.1L1516.8 669.5L1517.1 669.7L1518.3 670.8L1518.7 671.0L1519.0 671.2L1519.4 671.4L1519.7 671.5L1520.1 671.6L1520.5 671.7L1520.9 671.7L1521.3 671.7L1521.7 671.6L1522.1 671.5L1522.4 671.4L1522.8 671.2L1523.1 671.0L1523.5 670.8L1523.7 670.5L1524.0 670.2L1524.2 669.9L1524.4 669.6L1524.6 669.2L1524.7 668.8L1524.8 668.5L1524.9 668.1L1524.9 667.7L1524.9 667.3L1524.8 666.9L1524.7 666.5L1524.6 666.1L1524.5 665.9L1524.1 664.6L1523.8 663.3L1523.6 661.8L1522.6 650.0L1522.5 648.2L1522.7 646.4L1524.5 633.8L1524.5 633.2L1524.5 620.6L1524.6 619.0L1524.9 617.5L1525.2 616.1L1525.8 614.5L1530.6 603.3L1530.8 602.9L1530.9 602.5L1530.9 602.1L1531.0 601.2L1531.0 600.9L1531.0 600.5L1531.0 600.2L1530.9 599.8L1530.8 599.5L1530.6 599.1L1530.5 598.8L1521.7 584.2ZM1526.9 381.9L1526.9 381.5L1526.7 381.1L1526.6 380.8L1526.4 380.4L1526.2 380.1L1525.9 379.8L1525.6 379.5L1525.3 379.3L1525.0 379.1L1524.6 378.9L1524.3 378.8L1523.9 378.7L1523.5 378.6L1523.1 378.6L1522.7 378.6L1522.3 378.6L1521.9 378.7L1521.6 378.8L1521.2 379.0L1520.9 379.2L1520.6 379.4L1520.3 379.6L1520.0 379.9L1519.7 380.2L1519.5 380.6L1519.3 380.9L1519.2 381.3L1519.1 381.7L1519.0 382.1L1517.7 392.3L1517.7 392.4L1515.8 412.1L1515.5 413.9L1512.2 429.6L1512.2 430.0L1512.1 430.3L1512.1 430.7L1512.2 431.1L1514.2 443.5L1514.4 445.2L1515.1 456.1L1515.1 456.5L1515.2 456.9L1515.4 457.3L1515.5 457.7L1515.7 458.0L1518.0 461.4L1518.2 461.7L1518.5 462.0L1518.8 462.3L1519.1 462.5L1519.4 462.7L1519.8 462.9L1520.1 463.0L1520.5 463.1L1520.9 463.2L1521.3 463.2L1521.7 463.2L1522.0 463.1L1522.4 463.0L1522.8 462.9L1523.1 462.7L1523.5 462.6L1523.8 462.3L1524.1 462.1L1524.4 461.8L1524.6 461.5L1524.8 461.2L1525.0 460.8L1525.1 460.5L1525.2 460.1L1525.3 459.7L1525.3 459.3L1525.3 458.9L1524.6 447.0L1524.6 446.6L1524.0 430.6L1524.0 429.3L1524.1 428.0L1526.1 412.9L1526.3 411.5L1528.7 400.2L1528.8 399.8L1528.8 399.5L1528.8 399.1L1528.1 388.6L1528.0 388.3ZM1521.4 503.4L1521.2 503.1L1521.0 502.8L1520.7 502.5L1520.4 502.2L1520.1 502.0L1519.8 501.8L1519.4 501.6L1519.0 501.5L1518.6 501.4L1518.3 501.4L1517.9 501.3L1517.5 501.4L1517.1 501.4L1516.7 501.5L1516.3 501.7L1516.0 501.8L1515.6 502.0L1515.3 502.3L1515.0 502.5L1514.8 502.8L1514.5 503.2L1514.3 503.5L1514.2 503.9L1514.1 504.2L1514.0 504.6L1513.9 505.0L1513.4 511.4L1513.4 511.4L1512.6 522.6L1512.6 523.0L1512.6 523.4L1512.7 523.8L1515.1 535.1L1515.3 536.5L1515.8 540.1L1515.8 540.5L1515.9 540.8L1516.1 541.2L1516.3 541.5L1516.5 541.9L1516.7 542.2L1517.0 542.5L1517.3 542.7L1517.6 543.0L1517.9 543.1L1518.3 543.3L1518.7 543.4L1519.1 543.5L1519.5 543.6L1519.9 543.6L1520.2 543.5L1520.6 543.5L1521.0 543.4L1521.4 543.2L1521.7 543.0L1522.1 542.8L1522.4 542.6L1522.6 542.3L1522.9 542.0L1523.1 541.7L1523.3 541.3L1523.5 541.0L1523.6 540.6L1523.7 540.2L1523.7 539.9L1525.7 527.9L1525.9 527.1L1527.9 517.9L1527.9 517.5L1528.0 517.1L1527.9 516.7L1527.9 516.3L1527.8 515.9L1526.9 512.8L1526.8 512.5L1526.6 512.2L1526.5 511.9L1521.7 504.0ZM1526.5 797.7L1526.5 797.3L1526.5 796.9L1526.4 796.5L1526.2 796.1L1526.1 795.8L1525.8 795.4L1525.6 795.1L1525.3 794.8L1525.0 794.5L1524.7 794.3L1524.4 794.1L1524.0 794.0L1523.6 793.8L1523.2 793.7L1522.8 793.7L1522.4 793.7L1522.0 793.7L1521.6 793.8L1521.3 793.9L1520.9 794.0L1520.5 794.2L1520.2 794.4L1519.9 794.7L1519.6 795.0L1519.3 795.3L1519.1 795.6L1511.0 809.1L1510.9 809.4L1510.7 809.7L1510.6 810.1L1510.5 810.4L1510.0 813.4L1509.9 813.8L1509.9 814.2L1509.9 814.6L1510.0 815.0L1510.1 815.4L1510.2 815.7L1510.4 816.1L1510.6 816.4L1510.8 816.7L1511.1 817.0L1511.4 817.3L1511.7 817.5L1512.1 817.7L1512.4 817.9L1512.8 818.0L1513.2 818.1L1513.6 818.2L1513.9 818.2L1514.3 818.1L1514.7 818.1L1515.1 818.0L1515.5 817.8L1515.8 817.7L1516.2 817.5L1516.5 817.2L1517.4 816.4L1518.6 815.6L1519.9 814.9L1523.8 812.9L1524.1 812.8L1524.4 812.6L1524.7 812.3L1525.0 812.1L1525.2 811.8L1525.3 811.7L1525.5 811.4L1525.7 811.1L1525.8 810.7L1525.9 810.4L1526.0 810.0L1526.1 809.6L1526.5 803.8L1526.5 803.5ZM1393.6 297.1L1393.3 297.2L1392.9 297.3L1392.6 297.5L1392.2 297.8L1391.9 298.0L1391.7 298.3L1391.4 298.6L1391.2 299.0L1391.0 299.3L1390.9 299.7L1390.8 300.1L1390.7 300.5L1390.7 300.9L1390.7 301.3L1390.8 301.7L1390.9 302.0L1391.0 302.4L1391.2 302.8L1391.4 303.1L1391.6 303.4L1391.9 303.7L1392.2 304.0L1392.5 304.2L1392.8 304.4L1393.2 304.6L1393.6 304.7L1393.9 304.8L1394.3 304.9L1407.6 307.4L1408.0 307.5L1408.3 307.5L1420.5 307.5L1422.6 307.6L1438.4 309.6L1439.9 309.9L1441.3 310.2L1442.6 310.7L1443.9 311.4L1445.1 312.1L1446.2 312.9L1447.3 314.0L1453.2 319.8L1454.3 321.0L1455.2 322.3L1456.0 323.6L1456.6 324.9L1457.1 326.4L1457.4 327.8L1457.6 329.4L1457.7 331.0L1457.7 331.2L1457.7 331.6L1457.8 331.9L1457.9 332.3L1458.0 332.7L1458.2 333.1L1458.4 333.4L1458.7 333.7L1458.9 334.0L1459.2 334.2L1459.6 334.5L1459.9 334.7L1460.3 334.8L1460.7 334.9L1461.1 335.0L1461.5 335.0L1461.9 335.0L1462.3 335.0L1462.6 334.9L1463.0 334.8L1463.4 334.7L1463.7 334.5L1464.1 334.2L1464.4 334.0L1464.7 333.7L1464.9 333.4L1465.0 333.2L1466.0 332.2L1467.0 331.2L1468.1 330.3L1469.4 329.5L1470.6 328.9L1472.0 328.3L1473.4 327.9L1474.8 327.7L1476.2 327.6L1477.7 327.6L1479.1 327.7L1480.5 328.0L1481.9 328.5L1483.2 329.0L1484.5 329.7L1485.7 330.5L1486.8 331.4L1487.8 332.4L1488.8 333.6L1494.0 340.5L1494.3 340.9L1496.6 343.2L1496.9 343.5L1497.3 343.7L1497.6 343.9L1498.0 344.1L1504.4 346.7L1514.3 350.6L1515.6 351.2L1516.0 351.4L1516.4 351.5L1516.7 351.6L1517.1 351.6L1517.5 351.6L1517.9 351.6L1518.3 351.5L1518.6 351.4L1519.0 351.2L1519.3 351.0L1519.7 350.8L1520.0 350.6L1520.2 350.3L1520.5 350.0L1520.7 349.7L1520.9 349.4L1521.0 349.0L1521.2 348.6L1521.2 348.3L1521.3 347.9L1521.3 347.5L1521.3 347.1L1521.2 346.7L1521.1 346.3L1520.4 344.4L1520.1 342.5L1518.1 328.7L1517.9 327.0L1518.0 325.4L1518.2 323.6L1520.8 310.0L1520.8 309.7L1520.8 309.4L1520.8 309.0L1520.2 299.2L1520.2 298.8L1520.1 298.4L1519.9 298.0L1519.8 297.7L1517.5 293.2L1516.9 291.7L1516.4 290.3L1516.1 288.8L1514.6 280.0L1514.5 279.5L1514.4 279.1L1514.2 278.7L1513.4 277.2L1513.2 276.9L1512.9 276.6L1512.7 276.3L1512.4 276.0L1512.0 275.8L1511.7 275.6L1511.3 275.4L1510.9 275.3L1510.5 275.2L1510.1 275.1L1509.7 275.1L1509.3 275.2L1508.9 275.3L1507.6 275.6L1507.2 275.7L1506.9 275.8L1506.6 276.0L1506.3 276.2L1506.0 276.4L1505.7 276.6L1501.7 280.7L1501.6 280.8L1490.9 292.5L1490.0 293.3L1489.1 294.1L1484.2 298.0L1482.9 299.0L1481.7 299.7L1480.4 300.3L1479.0 300.8L1477.6 301.1L1476.1 301.3L1474.7 301.4L1473.2 301.3L1471.8 301.1L1470.3 300.7L1469.0 300.2L1467.7 299.6L1466.4 298.8L1465.2 298.0L1464.1 296.9L1458.9 291.7L1458.6 291.5L1458.3 291.2L1457.9 291.0L1457.5 290.8L1451.2 288.3L1449.8 287.7L1448.6 287.0L1447.4 286.1L1446.3 285.2L1445.3 284.0L1443.6 282.1L1443.3 281.8L1443.0 281.6L1442.7 281.4L1442.4 281.2L1442.0 281.0L1441.6 280.9L1441.2 280.8L1440.8 280.7L1440.4 280.7L1440.1 280.8L1439.7 280.8L1439.3 281.0L1438.9 281.1L1438.6 281.3L1438.2 281.5L1437.9 281.8L1437.6 282.0L1437.4 282.3L1436.7 283.3L1435.5 284.6L1434.3 285.8L1432.8 286.9L1427.0 290.8L1425.7 291.6L1424.4 292.2L1423.1 292.7L1421.7 293.0L1420.4 293.3L1418.9 293.4L1417.5 293.3L1416.0 293.1L1409.3 292.0L1409.0 292.0L1408.6 292.0L1408.3 292.0L1407.9 292.1L1407.5 292.1L1407.2 292.3L1402.2 294.3L1401.2 294.6L1395.4 296.6ZM867.6 335.1L867.4 335.5L867.3 335.9L867.2 336.3L867.2 336.7L867.2 337.1L867.2 337.5L867.3 337.8L867.4 338.2L867.6 338.6L867.8 339.0L871.1 344.5L871.7 345.7L872.0 346.1L872.2 346.4L872.5 346.7L872.8 347.0L873.2 347.3L899.2 363.2L899.5 363.3L899.9 363.5L900.3 363.6L900.6 363.7L901.0 363.7L901.4 363.7L901.8 363.7L902.2 363.6L916.0 360.5L916.4 360.3L916.8 360.2L917.1 360.0L917.5 359.8L917.8 359.5L918.1 359.2L921.7 355.0L921.9 354.8L927.2 347.8L927.3 347.6L933.0 339.0L933.3 338.6L938.3 331.7L939.4 330.3L940.5 329.1L941.9 328.0L948.8 323.1L950.0 322.3L951.2 321.7L952.4 321.2L953.7 320.8L955.1 320.5L956.5 320.3L969.4 319.3L970.6 319.3L971.8 319.3L997.7 321.3L999.2 321.5L1023.2 325.5L1023.7 325.6L1043.6 329.6L1045.2 330.0L1046.6 330.4L1047.9 331.1L1049.1 331.8L1050.3 332.7L1051.5 333.8L1059.6 341.9L1059.9 342.2L1060.2 342.4L1060.5 342.6L1072.2 349.3L1074.0 350.4L1087.7 360.7L1088.1 361.0L1088.4 361.1L1088.7 361.3L1101.5 366.1L1101.8 366.2L1107.4 367.7L1107.8 367.8L1108.2 367.9L1108.6 367.9L1108.9 367.9L1109.3 367.8L1109.7 367.7L1110.9 367.4L1111.3 367.2L1111.6 367.1L1111.9 366.9L1112.2 366.6L1117.9 362.1L1118.2 361.9L1118.5 361.6L1127.2 351.1L1127.2 351.1L1133.5 343.2L1133.7 342.9L1133.9 342.6L1134.0 342.3L1139.0 330.7L1139.7 329.3L1140.4 328.1L1141.3 327.0L1142.3 325.9L1148.2 320.0L1149.4 318.9L1150.6 318.0L1151.8 317.3L1153.2 316.6L1154.6 316.1L1156.1 315.8L1157.5 315.6L1159.0 315.5L1160.5 315.6L1162.0 315.9L1163.4 316.2L1164.8 316.8L1166.2 317.4L1167.4 318.2L1168.6 319.1L1169.7 320.2L1170.7 321.3L1171.5 322.5L1172.3 323.9L1176.0 331.3L1176.2 331.7L1176.5 332.0L1176.8 332.3L1177.1 332.6L1177.4 332.9L1180.4 334.9L1180.8 335.1L1181.1 335.3L1181.5 335.4L1181.9 335.5L1182.3 335.6L1182.7 335.6L1190.8 335.6L1192.4 335.6L1193.8 335.9L1195.3 336.2L1196.7 336.6L1197.1 336.7L1197.5 336.8L1197.9 336.8L1198.3 336.8L1198.7 336.7L1199.0 336.6L1199.4 336.5L1199.8 336.3L1200.1 336.1L1201.6 335.1L1202.9 334.3L1204.3 333.7L1205.7 333.2L1207.1 332.9L1208.5 332.6L1210.1 332.6L1218.1 332.6L1218.5 332.5L1218.9 332.5L1227.0 330.9L1228.6 330.6L1230.2 330.6L1231.7 330.7L1233.2 330.9L1234.7 331.3L1236.1 331.8L1237.4 332.5L1238.7 333.3L1240.0 334.3L1245.5 339.2L1245.9 339.4L1246.3 339.7L1246.7 339.9L1247.2 340.1L1247.6 340.2L1248.0 340.3L1248.4 340.4L1248.8 340.4L1249.2 340.3L1249.6 340.3L1250.0 340.2L1255.3 338.4L1256.8 338.0L1258.3 337.7L1259.7 337.6L1261.2 337.6L1262.7 337.8L1264.1 338.1L1265.6 338.6L1265.9 338.7L1266.3 338.8L1266.7 338.8L1267.1 338.8L1267.5 338.7L1267.9 338.6L1268.3 338.5L1268.7 338.3L1269.0 338.1L1269.3 337.9L1269.6 337.6L1269.9 337.3L1270.1 337.0L1270.3 336.6L1270.5 336.3L1270.6 335.9L1270.7 335.5L1270.8 335.1L1271.3 329.4L1271.5 327.8L1271.8 326.3L1272.3 324.9L1273.0 323.5L1273.8 322.1L1277.7 316.3L1278.6 315.1L1279.5 314.0L1280.5 313.1L1281.6 312.2L1282.8 311.5L1284.0 310.9L1285.3 310.3L1286.7 309.9L1310.6 304.0L1312.0 303.7L1313.5 303.5L1314.9 303.5L1316.3 303.6L1317.7 303.9L1319.1 304.3L1331.0 308.2L1332.4 308.8L1333.6 309.4L1334.8 310.1L1335.9 311.0L1337.0 312.0L1342.9 317.8L1344.4 319.6L1347.2 323.3L1347.4 323.6L1347.7 323.8L1347.9 324.0L1348.2 324.3L1348.6 324.4L1348.9 324.6L1349.0 324.6L1349.4 324.8L1349.7 324.9L1350.1 324.9L1350.4 324.9L1350.8 324.9L1351.2 324.9L1353.4 324.5L1353.8 324.4L1354.1 324.3L1354.5 324.2L1354.8 324.0L1355.1 323.8L1356.5 322.8L1356.8 322.5L1357.0 322.2L1357.3 321.9L1357.5 321.6L1361.5 314.9L1362.7 313.3L1363.9 311.8L1369.8 305.9L1371.0 304.9L1372.1 304.0L1373.4 303.3L1374.7 302.6L1376.1 302.1L1377.0 301.9L1377.4 301.8L1377.8 301.6L1378.1 301.4L1378.5 301.2L1378.8 301.0L1379.1 300.7L1379.3 300.4L1379.5 300.0L1379.7 299.7L1379.8 299.3L1380.0 298.9L1380.0 298.5L1380.1 298.1L1380.0 297.7L1380.0 297.3L1379.9 296.9L1379.8 296.6L1379.6 296.2L1379.4 295.9L1379.2 295.5L1378.9 295.2L1378.6 295.0L1378.3 294.7L1378.0 294.5L1377.6 294.3L1377.2 294.2L1376.8 294.1L1376.5 294.0L1369.1 293.3L1367.6 293.1L1366.3 292.8L1365.0 292.3L1363.8 291.8L1362.6 291.1L1361.4 290.3L1354.8 285.4L1354.5 285.2L1354.2 285.0L1350.7 283.3L1350.4 283.1L1350.0 283.0L1349.6 282.9L1349.2 282.9L1348.8 282.8L1348.4 282.9L1348.1 282.9L1347.7 283.1L1347.4 283.2L1347.0 283.3L1346.7 283.5L1346.4 283.6L1346.1 283.9L1345.8 284.1L1341.0 288.9L1340.0 289.9L1338.9 290.7L1337.7 291.4L1336.5 292.0L1335.3 292.5L1333.9 292.9L1326.1 294.9L1324.6 295.2L1323.2 295.3L1321.8 295.4L1320.4 295.2L1319.0 295.0L1317.6 294.6L1316.3 294.1L1315.0 293.5L1313.8 292.7L1312.6 291.8L1304.3 284.9L1304.0 284.6L1303.6 284.4L1303.3 284.3L1302.9 284.1L1302.6 284.0L1297.0 282.8L1296.5 282.8L1296.1 282.7L1295.7 282.8L1295.3 282.8L1293.1 283.3L1292.7 283.4L1292.3 283.5L1291.9 283.7L1291.6 283.9L1288.1 286.3L1287.8 286.6L1287.5 286.9L1287.2 287.2L1287.0 287.5L1283.1 294.0L1282.2 295.3L1281.3 296.5L1280.2 297.5L1279.1 298.4L1277.9 299.3L1276.6 299.9L1275.2 300.5L1273.7 301.0L1265.9 302.9L1264.3 303.2L1262.8 303.4L1261.3 303.4L1259.8 303.2L1258.3 302.9L1256.8 302.4L1255.4 301.8L1246.8 297.5L1246.4 297.3L1246.1 297.2L1245.7 297.1L1245.3 297.1L1235.0 296.3L1221.0 295.3L1219.7 295.2L1218.5 294.9L1217.2 294.6L1210.2 292.3L1209.9 292.2L1209.5 292.1L1209.2 292.1L1208.8 292.1L1208.5 292.1L1208.1 292.1L1207.4 292.3L1207.0 292.4L1206.6 292.6L1206.2 292.8L1193.0 301.1L1191.6 301.8L1190.3 302.4L1189.0 302.8L1187.6 303.2L1186.2 303.3L1184.7 303.4L1183.3 303.3L1181.9 303.1L1180.5 302.7L1179.1 302.2L1172.9 299.6L1172.6 299.5L1172.2 299.4L1171.9 299.4L1171.5 299.3L1171.1 299.3L1170.8 299.4L1170.4 299.5L1164.6 300.9L1162.9 301.2L1161.3 301.4L1159.7 301.3L1158.1 301.1L1157.8 301.1L1157.4 301.0L1157.0 301.0L1156.6 301.1L1156.2 301.2L1155.8 301.3L1155.4 301.4L1155.1 301.6L1154.8 301.9L1154.5 302.1L1154.2 302.4L1149.2 308.2L1148.4 309.1L1147.5 309.9L1140.6 315.8L1139.3 316.7L1138.1 317.5L1136.7 318.2L1135.3 318.7L1133.8 319.1L1132.3 319.4L1130.8 319.4L1129.3 319.4L1127.7 319.1L1117.9 317.2L1117.9 317.2L1107.0 315.1L1106.6 315.1L1106.1 315.1L1105.7 315.1L1105.3 315.2L1104.9 315.3L1095.8 318.5L1094.4 319.0L1093.1 319.2L1091.7 319.4L1090.4 319.4L1089.1 319.4L1087.6 319.1L1077.8 317.2L1076.4 316.8L1075.1 316.4L1073.8 315.8L1068.6 313.2L1068.2 313.0L1067.8 312.9L1067.3 312.8L1066.9 312.7L1066.5 312.8L1057.7 313.4L1056.2 313.4L1054.8 313.3L1053.4 313.1L1052.0 312.7L1050.7 312.2L1049.4 311.6L1048.2 310.9L1047.1 310.0L1046.0 309.1L1045.0 308.0L1035.1 296.1L1034.2 294.9L1033.4 293.7L1032.8 292.4L1032.3 291.0L1028.3 279.2L1027.9 277.9L1027.7 276.6L1027.5 275.2L1026.7 261.4L1026.6 261.0L1026.5 260.5L1025.5 257.2L1025.4 256.8L1025.2 256.4L1025.0 256.1L1024.8 255.8L1024.5 255.5L1022.1 253.0L1021.7 252.8L1021.4 252.5L1021.0 252.3L1012.5 248.0L1012.1 247.9L1003.6 244.5L1003.3 244.4L1001.2 243.7L1000.9 243.6L1000.5 243.6L1000.1 243.6L999.7 243.6L999.3 243.6L999.0 243.7L998.6 243.9L998.3 244.0L997.9 244.2L997.6 244.4L997.3 244.7L997.1 245.0L996.8 245.3L996.6 245.6L996.4 245.9L996.3 246.3L996.2 246.7L996.1 247.0L996.1 247.4L995.6 260.5L995.5 262.0L995.2 263.4L994.9 264.8L994.3 266.2L993.7 267.4L992.9 268.6L992.0 269.8L991.1 270.8L990.0 271.8L988.8 272.6L987.6 273.3L986.3 273.9L984.8 274.5L975.0 277.4L973.5 277.8L964.4 279.6L964.0 279.7L957.6 281.6L957.2 281.8L956.8 281.9L956.5 282.1L952.9 284.5L951.4 285.4L949.8 286.1L948.1 286.7L936.8 289.5L936.5 289.6L928.8 292.1L928.5 292.3L928.1 292.5L927.8 292.7L927.5 292.9L922.4 297.4L921.2 298.3L920.0 299.1L918.7 299.7L917.4 300.3L916.0 300.7L908.1 302.7L906.6 303.0L905.1 303.1L903.7 303.1L902.2 303.0L900.8 302.7L899.4 302.3L898.0 301.7L896.6 300.9L895.4 300.2L895.0 300.0L894.7 299.9L894.3 299.8L893.9 299.7L893.5 299.6L893.1 299.6L892.7 299.7L892.3 299.8L892.0 299.9L891.6 300.0L891.2 300.2L890.9 300.4L890.6 300.7L890.3 301.0L890.1 301.2L889.9 301.5L889.7 301.9L889.5 302.2L889.3 302.6L886.6 310.8L886.0 312.3L885.3 313.6L884.6 314.9L883.6 316.0L882.6 317.1L881.5 318.0L880.6 318.7L880.3 318.9L880.0 319.2L879.8 319.5L879.5 319.8L879.3 320.2L879.2 320.5L879.1 320.9L879.0 321.3L878.6 322.8L878.0 324.2L877.3 325.6L876.5 326.9L875.6 328.1L874.5 329.2L873.2 330.3L868.9 333.5L868.6 333.8L868.3 334.0L868.1 334.3L867.9 334.6L867.7 335.0ZM1339.0 983.8L1339.2 983.8L1339.6 983.6L1339.9 983.5L1340.3 983.3L1340.6 983.0L1340.9 982.8L1341.1 982.5L1341.3 982.2L1341.5 981.8L1341.7 981.5L1341.8 981.1L1341.9 980.8L1342.0 980.4L1342.0 980.0L1342.0 979.6L1341.9 979.2L1341.9 978.8L1341.7 978.5L1341.6 978.1L1341.4 977.8L1341.1 977.5L1340.9 977.2L1340.6 976.9L1340.3 976.7L1340.0 976.5L1339.6 976.3L1339.6 976.3L1338.0 975.6L1330.2 971.7L1328.9 971.0L1327.8 970.2L1326.7 969.3L1325.7 968.3L1324.8 967.1L1319.0 959.4L1318.9 959.3L1313.2 952.2L1313.0 951.9L1312.7 951.7L1312.4 951.5L1312.1 951.3L1311.6 951.0L1311.3 950.8L1310.9 950.6L1310.5 950.5L1310.1 950.5L1309.7 950.4L1309.3 950.4L1308.9 950.5L1308.5 950.6L1308.1 950.7L1307.7 950.9L1307.4 951.1L1302.1 954.6L1300.8 955.4L1299.5 956.0L1298.1 956.5L1296.7 956.9L1295.3 957.1L1293.9 957.2L1292.4 957.1L1291.0 956.9L1289.6 956.6L1288.2 956.1L1286.9 955.5L1285.7 954.8L1284.5 954.0L1283.4 953.1L1282.4 952.0L1281.4 950.8L1278.2 946.3L1277.9 945.9L1277.6 945.7L1277.3 945.4L1276.7 944.9L1276.4 944.7L1276.1 944.6L1275.8 944.4L1275.4 944.3L1275.1 944.2L1274.7 944.2L1274.3 944.1L1274.3 944.1L1273.9 944.2L1273.5 944.2L1273.2 944.3L1272.8 944.4L1266.2 947.1L1256.9 950.8L1256.6 950.9L1248.5 955.0L1248.0 955.3L1239.2 961.4L1237.9 962.3L1236.6 962.9L1235.2 963.4L1233.8 963.8L1232.3 964.1L1230.9 964.2L1229.4 964.2L1228.0 964.0L1226.5 963.7L1225.1 963.2L1223.8 962.6L1222.5 961.9L1221.3 961.0L1220.2 960.1L1219.2 959.0L1218.3 957.9L1217.4 956.6L1213.6 949.8L1213.5 949.7L1211.5 946.3L1211.2 945.9L1211.0 945.6L1210.7 945.4L1210.4 945.1L1210.1 944.9L1209.7 944.7L1209.4 944.6L1209.0 944.4L1208.6 944.4L1208.2 944.3L1207.8 944.3L1207.5 944.4L1207.1 944.4L1200.1 946.2L1199.7 946.3L1199.3 946.5L1194.8 948.8L1194.4 948.9L1194.1 949.1L1193.8 949.4L1193.6 949.6L1193.3 949.9L1193.1 950.2L1193.0 950.5L1191.8 952.8L1191.1 954.1L1190.3 955.2L1189.4 956.3L1188.5 957.3L1187.4 958.1L1186.3 958.9L1185.0 959.6L1177.1 963.6L1175.7 964.2L1174.3 964.7L1172.9 965.0L1171.4 965.2L1169.9 965.2L1168.5 965.1L1167.0 964.8L1165.6 964.4L1164.2 963.9L1162.9 963.2L1161.7 962.4L1160.5 961.5L1159.5 960.5L1158.5 959.4L1157.7 958.2L1156.9 956.8L1154.7 952.4L1154.5 952.1L1154.3 951.7L1154.0 951.4L1153.7 951.2L1153.4 950.9L1153.0 950.7L1152.7 950.5L1152.3 950.4L1151.9 950.3L1151.5 950.2L1151.1 950.2L1150.7 950.2L1150.4 950.3L1150.0 950.4L1149.6 950.5L1149.2 950.7L1148.9 950.9L1148.6 951.1L1148.3 951.4L1147.0 952.6L1146.7 952.9L1146.5 953.3L1146.3 953.6L1140.4 965.5L1140.2 965.8L1140.1 966.1L1137.6 974.5L1137.1 975.9L1136.5 977.2L1135.8 978.4L1134.9 979.6L1134.0 980.7L1133.0 981.6L1131.9 982.5L1130.6 983.3L1123.7 987.2L1122.3 988.0L1120.9 988.5L1119.4 988.9L1119.0 989.0L1118.7 989.2L1118.3 989.4L1118.0 989.6L1117.7 989.9L1117.4 990.1L1117.2 990.4L1117.0 990.8L1116.8 991.1L1116.7 991.5L1116.6 991.9L1116.5 992.2L1116.5 992.6L1116.5 993.0L1116.5 993.4L1116.6 993.8L1116.7 994.2L1116.8 994.5L1117.0 994.9L1117.2 995.2L1117.5 995.5L1117.8 995.7L1118.1 996.0L1118.4 996.2L1123.8 999.5L1125.4 1000.6L1126.9 1001.9L1132.4 1007.4L1132.7 1007.7L1133.0 1007.9L1133.4 1008.1L1133.7 1008.3L1134.1 1008.4L1134.5 1008.5L1134.9 1008.5L1135.2 1008.6L1135.6 1008.5L1136.0 1008.5L1136.4 1008.4L1136.8 1008.3L1137.1 1008.1L1137.5 1007.9L1137.8 1007.7L1138.1 1007.4L1140.0 1005.4L1140.4 1005.1L1140.6 1004.7L1145.4 996.7L1146.3 995.4L1147.2 994.3L1148.2 993.3L1149.4 992.3L1157.3 986.4L1158.4 985.6L1159.7 984.9L1167.6 981.0L1169.1 980.3L1170.6 979.8L1172.1 979.5L1173.7 979.3L1175.3 979.4L1176.9 979.5L1188.8 981.5L1190.3 981.8L1191.6 982.3L1192.9 982.8L1194.2 983.5L1195.5 984.4L1201.5 988.9L1201.8 989.1L1202.1 989.3L1202.4 989.4L1209.5 992.4L1209.9 992.5L1210.3 992.6L1210.7 992.7L1217.4 993.2L1217.7 993.2L1218.0 993.2L1218.4 993.2L1222.0 992.6L1222.4 992.5L1222.8 992.4L1223.1 992.2L1223.5 992.0L1223.8 991.8L1224.1 991.6L1224.4 991.3L1224.6 991.0L1224.8 990.7L1225.0 990.3L1225.2 990.0L1225.3 989.6L1226.0 986.8L1226.4 985.3L1226.9 984.0L1227.6 982.7L1228.4 981.5L1229.3 980.4L1230.3 979.4L1231.4 978.5L1232.5 977.6L1233.8 976.9L1235.1 976.4L1236.4 975.9L1237.8 975.6L1239.2 975.4L1240.6 975.3L1242.1 975.4L1243.6 975.6L1253.4 977.6L1255.2 978.1L1256.8 978.7L1258.4 979.5L1265.5 983.8L1265.9 984.0L1266.3 984.2L1266.8 984.3L1266.9 984.3L1267.3 984.4L1267.7 984.4L1268.1 984.4L1268.5 984.3L1268.9 984.2L1269.3 984.1L1269.6 983.9L1270.0 983.7L1270.3 983.5L1270.6 983.2L1276.0 977.8L1277.4 976.5L1279.1 975.4L1288.9 969.5L1290.3 968.8L1291.6 968.2L1293.0 967.8L1294.4 967.5L1295.8 967.3L1297.2 967.3L1298.7 967.4L1300.1 967.7L1301.5 968.1L1307.4 970.0L1308.8 970.6L1310.1 971.2L1311.3 972.0L1312.5 972.9L1313.5 973.9L1314.5 975.0L1315.3 976.2L1316.0 977.4L1316.7 978.8L1319.2 985.1L1319.4 985.5L1319.6 985.9L1319.8 986.2L1320.1 986.5L1322.2 988.6L1322.5 988.8L1322.8 989.0L1323.1 989.2L1323.4 989.4L1323.8 989.5L1324.1 989.6L1324.4 989.7L1324.8 989.8L1325.2 989.8L1325.6 989.8L1326.0 989.8L1326.4 989.7L1326.8 989.6L1327.1 989.4L1336.0 985.0L1337.5 984.3ZM1103.4 991.6L1103.8 991.5L1104.2 991.4L1104.5 991.3L1104.9 991.1L1105.2 990.9L1105.5 990.6L1105.8 990.3L1106.0 990.0L1106.2 989.7L1106.4 989.4L1106.5 989.0L1106.6 988.6L1106.7 988.2L1106.7 987.8L1106.7 987.5L1106.7 987.1L1106.6 986.7L1106.5 986.3L1106.4 986.0L1106.2 985.6L1106.0 985.3L1105.7 985.0L1104.6 983.8L1103.7 982.5L1099.0 975.6L1098.8 975.3L1098.6 975.0L1098.3 974.7L1098.0 974.5L1097.6 974.3L1097.3 974.1L1096.9 974.0L1096.6 973.9L1096.2 973.8L1095.8 973.8L1095.4 973.8L1095.0 973.9L1094.7 973.9L1094.3 974.1L1094.0 974.2L1093.6 974.4L1093.3 974.6L1093.0 974.9L1092.7 975.1L1092.5 975.4L1092.3 975.7L1091.0 977.9L1090.2 979.1L1089.3 980.2L1088.3 981.2L1087.3 982.1L1086.1 982.9L1084.9 983.6L1083.6 984.2L1076.3 987.1L1075.9 987.3L1075.6 987.5L1075.3 987.7L1075.0 988.0L1074.7 988.2L1074.5 988.5L1074.3 988.9L1074.1 989.2L1074.0 989.6L1073.9 990.0L1073.8 990.3L1073.8 990.7L1073.8 991.1L1073.8 991.5L1073.9 991.9L1074.0 992.2L1074.2 992.6L1074.4 992.9L1074.6 993.2L1074.8 993.5L1075.1 993.8L1075.4 994.1L1075.7 994.3L1077.7 995.4L1079.3 996.5L1080.8 997.8L1084.3 1001.4L1084.6 1001.6L1084.9 1001.9L1085.2 1002.1L1085.6 1002.2L1085.9 1002.4L1086.3 1002.5L1086.7 1002.5L1087.1 1002.5L1087.5 1002.5L1087.9 1002.5L1088.3 1002.4L1088.6 1002.2L1089.0 1002.1L1089.3 1001.9L1089.6 1001.6L1089.9 1001.4L1095.5 995.8L1096.6 994.8L1097.7 994.0L1099.0 993.2L1100.2 992.6L1101.6 992.1L1102.9 991.7ZM1037.8 966.9L1037.6 966.6L1037.3 966.3L1037.0 966.0L1036.7 965.8L1036.4 965.6L1036.0 965.4L1035.7 965.3L1035.3 965.2L1034.9 965.1L1034.5 965.1L1034.1 965.1L1033.7 965.1L1033.3 965.2L1033.0 965.3L1032.6 965.5L1032.3 965.7L1028.7 967.9L1027.4 968.6L1026.1 969.2L1024.8 969.6L1023.4 970.0L1022.0 970.2L1020.6 970.2L1019.1 970.1L1010.1 969.2L1009.7 969.2L998.7 969.2L997.2 969.1L995.7 968.9L994.3 968.6L992.9 968.1L991.5 967.4L990.3 966.7L989.1 965.8L988.0 964.8L987.0 963.7L986.1 962.5L985.3 961.2L985.0 960.9L984.8 960.6L984.5 960.3L984.2 960.1L983.8 959.9L983.5 959.7L983.1 959.6L982.7 959.5L982.3 959.5L981.9 959.4L981.5 959.5L981.2 959.5L980.8 959.6L980.4 959.7L980.1 959.9L979.7 960.1L978.9 960.6L977.6 961.4L976.3 962.0L974.9 962.5L973.4 962.9L963.6 964.9L961.9 965.1L960.4 965.2L958.9 965.1L957.4 964.9L955.9 964.5L954.5 963.9L953.1 963.2L951.8 962.4L950.6 961.4L949.5 960.4L948.5 959.1L946.3 956.2L946.1 956.0L945.8 955.7L945.5 955.4L945.2 955.2L944.8 955.0L944.5 954.9L944.1 954.8L943.7 954.7L943.4 954.7L943.0 954.7L942.6 954.7L942.2 954.8L941.8 954.9L937.3 956.4L935.7 956.8L934.2 957.1L932.7 957.2L931.2 957.1L929.7 956.9L928.3 956.6L926.8 956.1L925.5 955.5L924.2 954.7L923.0 953.8L921.8 952.7L913.9 944.8L912.8 943.6L912.5 943.3L912.3 942.9L912.0 942.7L911.7 942.4L911.4 942.2L911.0 942.0L910.7 941.9L910.3 941.7L909.9 941.7L909.5 941.6L909.1 941.6L908.7 941.6L908.4 941.7L908.0 941.8L907.6 942.0L907.3 942.2L906.9 942.4L906.6 942.6L906.4 942.9L906.1 943.2L905.9 943.5L905.7 943.9L905.5 944.2L905.4 944.6L905.3 945.0L905.3 945.4L905.3 945.7L905.3 946.4L905.2 947.9L905.0 949.4L902.3 962.1L902.2 962.6L901.5 972.0L901.5 972.3L901.5 972.7L901.6 973.0L901.6 973.4L904.3 982.5L904.4 982.8L904.5 983.2L908.8 991.8L909.1 992.2L909.3 992.5L914.7 999.4L915.0 999.7L915.4 1000.0L919.9 1003.6L920.2 1003.8L920.6 1004.0L920.9 1004.2L921.3 1004.3L921.7 1004.4L928.8 1005.6L929.6 1005.7L937.8 1007.5L938.2 1007.6L938.6 1007.6L939.0 1007.6L939.4 1007.5L939.8 1007.4L940.2 1007.3L943.3 1006.0L943.6 1005.8L943.9 1005.6L944.3 1005.4L944.5 1005.1L949.8 999.8L951.0 998.8L952.2 997.9L953.4 997.1L954.8 996.5L956.2 996.0L957.6 995.7L959.0 995.4L960.6 995.4L966.2 995.4L966.6 995.4L966.9 995.3L967.3 995.2L967.7 995.1L968.0 995.0L968.3 994.8L968.6 994.6L971.5 992.4L972.7 991.6L973.8 991.0L975.1 990.4L984.9 986.5L986.3 986.0L987.7 985.6L997.6 983.6L999.1 983.4L1000.5 983.3L1001.9 983.4L1003.3 983.6L1004.7 983.9L1006.0 984.4L1007.3 984.9L1008.6 985.6L1009.7 986.4L1010.8 987.3L1011.8 988.3L1012.7 989.4L1013.5 990.7L1019.5 1000.6L1020.1 1001.7L1021.2 1003.8L1021.3 1004.2L1021.6 1004.5L1021.8 1004.8L1022.1 1005.1L1022.4 1005.3L1022.7 1005.5L1023.1 1005.7L1023.4 1005.8L1023.8 1005.9L1024.2 1006.0L1024.6 1006.1L1025.0 1006.1L1025.3 1006.0L1025.7 1005.9L1026.1 1005.8L1026.4 1005.7L1026.8 1005.5L1027.1 1005.3L1027.4 1005.0L1027.7 1004.8L1027.9 1004.5L1028.7 1003.5L1029.8 1002.2L1031.0 1001.0L1040.1 993.1L1041.4 992.1L1042.7 991.3L1044.1 990.6L1045.6 990.0L1047.2 989.6L1052.4 988.6L1052.7 988.5L1053.1 988.4L1053.5 988.2L1053.8 988.0L1054.1 987.8L1054.4 987.5L1054.7 987.2L1054.9 986.9L1055.1 986.5L1055.3 986.2L1055.4 985.8L1055.5 985.4L1055.6 985.1L1055.6 984.7L1055.6 984.3L1055.5 983.9L1055.4 983.5L1055.3 983.1L1055.1 982.8L1054.9 982.4L1054.7 982.1L1054.4 981.8L1048.4 975.8L1047.9 975.4L1041.1 970.3L1039.8 969.2L1038.7 968.1ZM889.0 517.1L889.1 517.5L889.2 517.8L889.4 518.2L889.6 518.5L892.7 523.8L893.0 524.2L898.4 531.4L898.7 531.7L898.9 532.0L899.3 532.3L899.6 532.5L900.0 532.7L900.4 532.8L900.8 532.9L901.2 533.0L901.6 533.0L907.5 533.0L907.9 533.0L908.3 532.9L908.7 532.8L909.0 532.7L909.4 532.5L909.7 532.3L910.0 532.1L910.3 531.8L910.6 531.6L910.8 531.2L911.0 530.9L911.2 530.6L911.3 530.2L911.4 529.8L911.5 529.4L911.5 529.0L911.5 528.6L911.4 528.3L911.3 527.9L911.2 527.5L910.6 526.0L910.1 524.4L909.7 522.7L907.7 510.9L907.5 509.1L907.5 507.5L907.7 505.7L909.7 493.9L910.0 492.6L914.0 476.6L914.1 476.2L918.0 462.0L918.1 461.6L918.1 461.2L918.2 460.8L918.1 460.3L917.6 456.4L917.5 456.1L917.4 455.7L917.3 455.3L917.1 455.0L916.9 454.7L916.6 454.4L916.4 454.1L916.1 453.9L915.8 453.6L915.4 453.4L915.1 453.3L914.7 453.2L914.4 453.1L914.0 453.0L913.6 453.0L898.8 453.0L898.4 453.0L898.1 453.1L897.7 453.2L897.3 453.3L897.0 453.4L896.7 453.6L896.3 453.9L896.1 454.1L895.8 454.4L895.6 454.7L895.4 455.0L895.2 455.4L895.0 455.7L894.9 456.1L886.9 490.1L886.7 490.9L884.3 499.4L884.2 499.8L884.2 500.2L884.1 500.6L884.2 500.9L884.2 501.3L884.3 501.7L888.6 515.4L889.0 516.9ZM904.3 919.5L904.3 919.9L904.4 920.3L904.5 920.7L904.6 921.0L904.8 921.4L905.0 921.7L905.3 922.0L905.6 922.3L905.9 922.5L906.2 922.8L906.5 922.9L906.9 923.1L907.3 923.2L907.6 923.3L908.0 923.3L908.4 923.4L908.8 923.3L909.2 923.3L909.6 923.1L909.9 923.0L910.3 922.8L910.6 922.6L910.9 922.4L911.2 922.1L911.5 921.8L911.7 921.5L911.9 921.1L912.0 920.8L912.1 920.4L912.2 920.0L913.4 913.2L913.4 912.9L913.4 912.5L913.4 907.3L913.4 907.0L913.4 906.6L913.3 906.3L913.2 905.9L913.0 905.6L912.9 905.3L911.2 902.4L910.9 902.1L910.7 901.8L910.4 901.5L910.1 901.3L909.8 901.1L909.4 900.9L909.1 900.7L908.7 900.6L908.3 900.5L907.9 900.5L907.5 900.5L907.1 900.5L906.7 900.6L906.4 900.7L906.0 900.9L905.7 901.1L905.3 901.3L905.0 901.5L904.8 901.8L904.5 902.1L904.3 902.5L904.1 902.8L904.0 903.2L903.8 903.5L903.8 903.9L903.4 906.2L903.4 906.6L903.4 907.0L904.3 919.0ZM901.0 718.7L901.2 719.1L901.5 719.4L901.8 719.6L902.1 719.9L902.4 720.1L902.7 720.3L903.1 720.4L903.5 720.6L903.9 720.6L904.2 720.7L904.6 720.7L905.0 720.6L905.4 720.6L905.8 720.4L906.2 720.3L906.5 720.1L906.8 719.9L907.1 719.6L907.4 719.4L907.7 719.1L907.9 718.7L909.7 715.7L909.8 715.4L910.0 715.0L910.1 714.6L910.2 714.3L911.3 706.5L911.3 706.2L911.3 705.8L911.3 705.5L909.6 692.1L909.6 692.0L907.6 678.2L907.6 677.9L905.9 664.2L905.8 663.8L905.7 663.5L905.5 661.9L904.9 654.7L904.9 654.3L904.8 653.9L904.7 653.5L904.5 653.2L904.3 652.8L904.1 652.5L903.8 652.2L903.5 651.9L903.2 651.7L902.8 651.5L902.5 651.3L902.1 651.2L901.7 651.1L901.3 651.0L900.9 651.0L899.6 651.0L899.3 651.0L898.9 651.1L898.5 651.2L898.1 651.3L897.8 651.5L897.5 651.6L897.1 651.9L896.9 652.1L896.6 652.4L896.4 652.7L896.2 653.0L896.0 653.4L895.8 653.7L893.8 659.7L893.7 660.1L893.7 660.4L893.6 660.8L893.6 661.1L893.7 661.5L895.2 674.1L895.4 675.5L895.3 676.8L895.2 678.3L893.7 689.1L893.6 689.5L893.6 690.0L893.7 690.4L896.1 703.1L896.1 703.2L898.4 713.9L898.5 714.4L898.7 714.8L898.9 715.2ZM893.8 848.2L893.8 848.6L893.9 849.0L894.1 849.3L894.3 849.7L894.5 850.0L894.7 850.3L895.0 850.6L895.3 850.9L895.6 851.1L896.0 851.3L896.4 851.4L896.7 851.5L897.1 851.6L897.5 851.6L897.9 851.7L898.3 851.6L898.7 851.5L899.1 851.4L899.4 851.3L899.8 851.1L900.1 850.9L900.4 850.6L900.7 850.3L900.9 850.0L901.1 849.7L901.3 849.4L901.5 849.0L901.6 848.6L901.7 848.2L901.8 847.5L903.7 838.1L903.7 837.9L905.6 824.4L907.6 810.4L907.9 809.0L908.3 807.6L910.5 800.9L910.6 800.5L910.7 800.2L910.7 799.8L910.7 799.4L910.7 799.0L910.6 798.7L910.0 796.3L910.0 796.2L906.1 782.6L905.7 781.0L905.5 779.6L905.5 778.1L905.6 776.6L905.8 775.1L907.7 766.4L907.8 766.0L907.8 765.6L907.8 765.2L907.7 764.8L907.7 764.4L907.5 764.1L907.4 763.7L907.2 763.4L907.0 763.1L906.7 762.8L906.4 762.5L906.1 762.3L905.8 762.1L905.4 761.9L905.1 761.7L904.7 761.6L904.3 761.6L903.9 761.5L903.6 761.5L903.2 761.6L902.8 761.6L902.4 761.8L902.1 761.9L901.7 762.1L901.4 762.3L901.1 762.6L900.8 762.8L900.6 763.1L900.4 763.5L897.2 768.7L897.0 769.1L896.9 769.4L896.8 769.8L896.7 770.2L895.6 777.8L895.6 778.1L895.6 778.5L895.6 778.9L897.2 790.2L897.3 791.4L898.3 805.3L898.4 806.5L898.3 807.7L897.3 819.6L897.1 821.2L896.7 822.8L896.2 824.3L892.9 832.2L892.8 832.5L892.7 832.9L892.6 833.2L892.6 833.6L892.6 834.0L893.3 844.8L893.3 845.2Z"/>
<polyline fill="none" stroke="none" marker-start="url(#mA)" marker-mid="url(#mA)" marker-end="url(#mA)" points="907.7,578.5 809.1,384.0 867.3,468.4 1541.5,844.0 1580.8,924.5 1669.3,1098.6 999,194.5 998,203.0 997.5,210.0 1001,198.0 996,199.0 999.5,206.5 996.5,213.0 1000,190.5 945.2,230.3 1026.5,231.8 1484.8,259.9 960.6,348.3 978.6,352.3 958.6,370.4 962.6,389.4 1018.7,366.4 1012.7,370.4 1006.7,400.5 1000.7,402.5 897.9,555.1 915.5,537.5 915.5,562.9 906.7,587.2 894,624.2 895,617.5 897,627.0 901.8,640.8 903,547.0 908,551.0 868.1,374.2 863.5,338.1 867,317.0 890.2,383.2 900.2,378.2 866,395.0 886.2,400.3 894.2,411.3 900.2,400.3 892.2,422.4 916.3,433.4 900,430.0 880,388.0 905,415.0 884,428.0 867.9,338.2 873.7,345.5 882.9,351.1 887,356.4 894.5,360.0 900.7,364.1 909.8,360.0 918.4,360.2 921.5,352.4 927,344.6 932.8,337.6 938.8,332.0 943.8,323.3 953.3,321.2 964.2,320.5 967.6,320.2 979.2,317.8 985.6,319.3 995.8,319.7 1001.7,319.6 1011.8,324.6 1018.3,324.9 1029,326.4 1035.9,328.3 1045.3,327.2 1053.4,333.8 1062.2,342.3 1067.4,346.5 1069.4,346.8 1081.1,356.3 1087.2,360.8 1097.2,364.3 1102.4,364.8 1110.3,368.8 1118.6,362.4 1125.9,354.1 1128.3,349.4 1134.1,340.8 1135.5,333.1 1139.5,325.1 1148.3,321.0 1154.2,313.9 1165.2,314.0 1168.2,319.9 1175.5,327.5 1178.1,333.7 1187,333.6 1197.1,336.3 1202.3,333.7 1213.1,332.5 1219.4,331.2 1230.2,330.9 1232.6,330.0 1240.4,333.6 1251.6,337.8 1260.1,336.5 1264,337.0 1270,332.7 1271.7,323.0 1276.4,319.9 1282,310.0 1288.1,309.2 1300.2,304.4 1304.7,304.3 1317.9,304.1 1323.2,303.8 1330.8,308.7 1338.1,313.2 1342.1,315.5 1350.4,323.2 1356.6,318.2 1361.2,312.8 1366.8,307.9 1374.2,303.5 1382.6,299.7 1389.7,304.2 1398.9,303.9 1410.5,304.9 1413.4,306.0 1424.3,308.3 1432.8,308.4 1441.2,309.8 1446.8,310.5 1453,317.2 1459.7,330.4 1456.9,334.1 1458.8,340.9 1461.5,339.3 1465.7,332.1 1472.2,326.8 1478.4,325.9 1485.5,330.6 1494.1,338.2 1497.1,342.4 1507.8,348.5 1515.9,350.2 1518.5,353.9 1525.9,361.7 1524,370.8 1520.6,381.1 1520.2,390.9 1519.8,394.3 1516,403.7 1516.4,416.3 1516.1,420.0 1511.7,430.0 1515,439.3 1515.3,445.1 1516.2,454.4 1520,461.4 1522.5,467.8 1526.2,461.8 1525.5,454.0 1523.4,446.9 1522.3,440.5 1523.4,428.3 1524,419.9 1526.2,410.5 1525.5,405.2 1526,397.8 1527.5,383.9 1526.4,380.2 1523.8,370.6 1524.4,361.8 1523.2,350.6 1520.7,343.1 1518.9,333.3 1517.3,329.3 1516.7,319.4 1519.5,311.2 1521.1,304.2 1515.8,295.4 1516.3,284.7 1512.4,279.7 1507.7,275.5 1499.8,284.3 1497.1,288.9 1487.5,297.7 1479.9,302.5 1472.6,301.2 1466.9,298.2 1459.5,294.1 1451.9,289.8 1443.2,283.5 1438.4,281.3 1433.7,288.1 1427.4,294.0 1414,292.9 1407.3,292.4 1399.6,295.1 1391.9,297.2 1387.8,299.0 1373.9,293.2 1368,293.4 1360.1,290.7 1353.5,287.8 1346.4,285.9 1339,293.5 1329.1,292.9 1322.5,295.1 1315.8,294.5 1308.5,291.1 1299.4,284.4 1294.5,285.5 1286.7,289.2 1283.3,293.7 1271.6,301.8 1268.7,303.5 1260,303.4 1251.9,301.3 1244.7,299.0 1233.1,298.1 1223.8,295.5 1216.3,294.8 1209.2,292.4 1202.6,297.0 1195.9,298.7 1188.2,305.7 1178.4,302.4 1171,300.5 1160.9,302.8 1151.3,306.1 1150.2,310.0 1141.5,318.0 1136.9,318.8 1126.2,318.1 1119,317.0 1110.1,316.2 1100.4,318.3 1094.9,321.0 1081.9,318.2 1078.5,317.1 1067.2,315.6 1058.2,315.4 1048.9,313.7 1047.2,309.0 1038.8,303.7 1034.7,297.9 1028.7,287.0 1025.4,278.4 1024.8,272.8 1026.1,260.1 1021.5,254.7 1019.3,250.4 1009.8,246.6 1001.4,244.5 998.2,249.1 995.5,259.9 995.1,266.4 989.5,272.5 985.6,277.0 975.5,279.0 964.6,281.3 959.2,283.3 950.4,288.2 939.9,289.0 933.9,292.9 926.7,293.4 919.2,300.9 910.7,302.3 905.4,302.4 895.4,302.7 888.5,304.1 884.8,315.3 881.6,318.8 877.5,326.8 873.7,333.0 1517.6,500.4 1514.4,508.3 1515.6,516.0 1514.7,525.3 1514.3,531.3 1516.7,543.2 1516.3,550.0 1517.3,556.7 1521.1,567.3 1521,559.5 1521.5,556.1 1523.3,544.8 1522.9,534.5 1526.5,524.0 1526.4,517.4 1526.1,511.9 1519.6,502.2 1516.8,579.8 1513.3,589.8 1513.2,594.0 1512.8,604.6 1516,614.0 1516.2,621.7 1512,629.3 1513.8,639.7 1514.1,646.6 1514.8,656.9 1514.7,659.6 1518.5,668.1 1525.9,676.4 1532.6,685.0 1537.4,686.3 1533,680.1 1527.4,671.8 1522.2,666.2 1524,658.2 1520.8,650.5 1523.4,639.6 1522.9,629.6 1524.8,624.7 1526.5,611.9 1529.7,604.4 1529.3,599.3 1526.1,590.2 1519.4,584.2 1538.3,709.7 1532.1,713.3 1524.3,718.9 1521.2,722.9 1522.6,730.2 1520.3,740.7 1521.3,749.7 1521.7,758.7 1521,763.2 1523.2,773.4 1521.6,775.3 1527.5,764.2 1524.5,756.7 1522.9,746.3 1523.3,739.6 1526.9,733.2 1531.9,721.2 1535.4,718.4 1540.1,709.1 1523.7,787.1 1518.1,797.4 1513.7,806.5 1511,815.0 1510.8,820.1 1509.9,827.9 1512.8,823.1 1516.7,817.6 1525.3,811.2 1524.6,801.5 1527.3,792.2 1509.2,861.4 1508.8,868.7 1509.7,877.6 1509.8,884.4 1508.6,896.0 1504.8,901.9 1500.1,911.8 1503.6,916.7 1505.3,924.7 1510.1,931.6 1515.2,940.5 1513.1,948.0 1508.5,955.2 1504.4,959.5 1497.4,963.8 1487.5,963.1 1480,961.8 1472.8,968.2 1466.6,971.8 1459,971.7 1449.1,967.8 1442.3,964.5 1438.5,959.1 1431.3,959.0 1425.4,964.5 1418.2,969.7 1414.3,975.6 1403.9,972.8 1394.3,971.1 1390.3,970.5 1384.6,975.1 1374.7,971.8 1364.7,967.6 1354.9,972.2 1352.9,975.5 1344.6,979.1 1334,976.3 1330.2,970.3 1323.5,966.6 1317.5,960.5 1309.3,950.3 1303.4,954.3 1295.1,956.4 1288.1,955.4 1283,952.9 1273.8,943.4 1267.7,946.0 1257.5,950.9 1250.1,955.4 1243.7,960.7 1236.1,964.6 1229.9,965.2 1222.4,963.7 1217.2,958.7 1211.6,947.9 1207,946.8 1193.7,949.5 1191,952.4 1186,960.1 1178.6,965.7 1167.7,966.4 1160.1,963.2 1153.5,955.1 1152.2,950.8 1146.8,952.5 1143.8,960.0 1141.6,967.7 1137.1,978.5 1129.3,985.1 1123.6,990.3 1113.8,991.6 1107.3,986.7 1104,983.9 1095.3,974.3 1090.9,977.4 1084.2,984.2 1077,987.5 1071.7,991.7 1081.2,994.8 1087.3,1002.4 1092,995.7 1098.3,992.6 1104.5,989.9 1113.5,991.1 1121.5,997.0 1129.5,1001.2 1134.1,1010.1 1138.5,1002.0 1145.4,998.7 1151.8,988.6 1159.8,985.5 1167.1,979.8 1172.8,978.9 1180.5,978.9 1189.1,979.8 1201,985.0 1208.4,990.5 1212.9,991.1 1223.5,990.9 1226.7,980.8 1231.7,977.9 1237.8,975.0 1251.3,974.9 1258.1,978.0 1261.7,979.5 1267.7,982.2 1277.1,977.2 1283.2,969.7 1290,969.2 1303.1,967.8 1309.7,968.4 1315.4,974.5 1319,981.4 1321.5,987.9 1332.5,985.3 1341.8,981.8 1345.5,981.6 1356.3,990.3 1362.1,993.5 1372.9,994.7 1376.6,995.3 1384,996.2 1390.9,1000.7 1399.2,1008.2 1403,1013.8 1407.7,1008.0 1408,997.7 1415.1,991.8 1419.8,984.2 1426.8,983.3 1433.5,984.7 1444,983.0 1457.2,980.3 1459.4,979.6 1471.3,983.9 1479.2,984.6 1488.2,988.7 1494.2,996.4 1499,997.2 1506.7,1006.6 1509.4,1010.7 1510,1002.3 1516.8,998.3 1523.7,992.5 1531.6,991.5 1529.4,981.5 1529.2,974.7 1532.4,965.3 1532.1,955.1 1528.4,950.5 1528.9,938.2 1527.3,931.3 1516.5,926.6 1514.3,920.7 1511.1,910.7 1508.6,903.5 1509,895.3 1510.6,888.3 1512.8,879.6 1512,873.7 1509.8,863.1 1056.8,983.3 1049.2,977.7 1042.6,971.1 1038.1,966.2 1031.7,967.9 1021.8,969.5 1012.4,971.9 1005.9,970.9 998.1,968.3 988.4,967.6 983.9,961.1 978.2,963.2 968.9,965.2 960.7,964.6 953.2,963.9 945.3,956.2 938.1,958.6 929,958.7 922.5,954.5 915.5,947.2 911.1,943.2 908.3,935.3 909.9,924.1 911.9,918.1 911.7,908.5 906.1,899.2 907.7,893.4 904.3,900.5 903,912.7 904.9,920.9 906.8,928.9 905.7,938.3 904.2,944.1 906.3,952.4 903.7,962.2 904,971.5 904.2,974.6 904.8,982.8 913.8,995.0 916.7,1002.5 922.4,1002.2 934.9,1007.1 939.8,1005.1 949.7,998.7 951.1,995.8 962.2,994.2 968.1,993.3 979.3,989.0 983.6,984.8 996.6,981.4 1000.3,982.3 1012.2,987.1 1015,991.0 1021.8,998.9 1024.7,1008.2 1028.8,1000.8 1037.5,995.7 1045.4,991.1 1051,986.6 905.2,866.0 900.9,857.1 902.4,849.2 901.4,843.4 902.3,831.9 903.1,826.6 906.9,813.7 908.7,809.3 908.8,802.8 906.7,792.3 903.4,778.7 905.5,774.5 905.8,763.6 908.4,757.2 904.4,748.4 902.9,746.2 905.6,754.8 901.5,761.1 896.8,769.3 896.3,779.5 899.5,790.6 898.6,799.8 900.4,804.3 897.6,812.8 898.9,822.1 894.4,829.5 893.8,840.1 895.3,850.2 896.9,855.9 900.6,863.5 906.1,724.3 909.6,711.6 911.7,705.3 909.5,695.7 907,685.9 905.6,677.5 906.4,668.9 903.4,659.7 902.1,653.0 894.3,658.0 896.1,668.3 897.5,674.6 897.1,681.1 896.4,692.6 896.8,698.3 896.6,710.7 903.1,719.5 891.1,520.7 897.8,527.4 902.8,533.7 909.6,531.4 909.7,529.4 907,519.8 908.2,511.0 908.4,499.7 909.3,490.4 911.5,487.8 911.9,474.7 914.5,468.8 916.3,456.2 914.5,455.5 904.5,454.6 897,453.9 893.1,462.7 891.3,466.9 891.6,481.3 886.8,486.0 886.7,498.2 884.7,503.2 888.2,510.8 1520.2,474.9 1520.9,479.8 1519.4,483.4 1519,490.2 1536,694.0 1508.5,836.5 1507.7,841.2 1507.9,843.4 1509.3,849.1 1062.3,986.0 908.1,880.8 907.2,878.4 905.8,733.2 906.2,730.6 904.3,729.5 902.8,736.2 905.3,877.3 903.5,880.2 903.6,885.4 1062.1,989.8 1512.1,847.6 1511.6,843.7 1511.3,839.2 1542.1,696.5 1541,694.3 1521.2,488.1 1522.7,484.4 1523.4,478.9 1526.7,475.3 873.6,340.0 875.7,345.5 887.5,351.3 892,353.7 898.1,355.2 908.4,357.2 910,356.1 921.9,348.9 923.1,343.2 927.5,336.9 932.5,329.8 939.4,324.8 947.3,319.9 951.5,316.7 963.4,315.4 969.3,314.0 978,315.7 984.2,317.4 991.8,316.3 998.3,316.5 1011.8,320.7 1015.7,320.3 1021.1,318.9 1030.1,323.1 1041,325.7 1047.4,324.4 1053.5,332.1 1059.5,337.7 1067.4,342.5 1072.3,344.3 1081.3,347.6 1086.6,353.9 1094.7,356.8 1101.4,359.7 1107.9,362.7 1112.5,360.6 1119.2,354.2 1126.7,344.9 1130.9,343.2 1133.1,330.7 1134.6,326.0 1138.2,320.9 1131.8,322.3 1126.5,323.0 1115.9,319.6 1107.2,320.9 1100.1,322.8 1090.9,322.0 1081,324.4 1074.8,322.7 1068.4,318.6 1062.1,317.2 1054.7,318.6 1047,313.4 1038.1,306.1 1031.9,301.4 1028.6,297.0 1025.2,288.0 1022.4,279.9 1022.2,268.8 1020.7,263.7 1022.8,256.8 1012.6,255.0 1007,251.2 1000.6,249.7 1000.1,258.1 1000.2,265.2 993.3,273.2 985.9,277.6 979.7,280.7 975.7,281.1 968.7,282.0 958.9,285.1 951.7,289.2 939.4,294.8 934.4,296.5 927.2,298.1 924.2,300.9 912.7,306.5 907.5,306.7 899.6,308.0 890.8,309.8 888.2,313.4 883,321.6 879.9,328.1 876.9,331.3 1156.7,310.3 1160.1,311.4 1169.8,312.1 1173.5,320.6 1178,327.5 1181.3,329.0 1193,332.1 1202.5,332.5 1205.3,326.6 1212.2,327.1 1225.6,327.6 1228.2,326.8 1237.2,329.4 1245.6,330.5 1254.8,332.6 1262,335.0 1267.4,333.7 1266.8,322.9 1273.7,316.5 1279,309.5 1283,308.9 1291,306.2 1297.9,300.9 1306.1,302.2 1314.6,298.5 1314.7,299.9 1307.2,295.7 1301.9,289.0 1295.8,287.9 1288.7,295.9 1283.8,303.4 1273.4,305.7 1271.8,306.0 1258.8,307.4 1254.6,305.2 1246.4,299.6 1239.3,302.5 1227.2,299.1 1218.6,298.5 1213.3,299.2 1204.5,299.9 1200.6,302.1 1192.5,307.7 1183.6,308.6 1178.8,306.5 1169.1,304.4 1161.7,305.8 1154.9,305.2 1320.7,297.7 1329,301.7 1338,305.7 1343.7,310.8 1348.5,319.6 1354.6,316.1 1358.8,309.4 1365.7,306.6 1371.6,298.5 1369.1,298.9 1360.8,294.6 1355.8,291.5 1345.3,287.2 1340.5,292.7 1335.8,298.7 1325.9,301.1 1401,302.0 1407.1,301.0 1412.6,304.4 1423.7,304.3 1431.4,303.5 1440.1,305.6 1444,306.4 1453,316.1 1457.8,316.5 1460.7,322.4 1463,327.2 1473.2,322.7 1482.8,324.7 1487.7,326.2 1495,333.5 1498.3,339.8 1505.3,341.0 1511.9,345.4 1514.6,342.3 1515,331.5 1514.2,326.1 1512.4,320.4 1516.7,311.0 1516.9,306.1 1512,296.1 1510.7,289.3 1510.9,279.6 1501.9,287.4 1496.4,290.5 1493.9,297.7 1487,300.1 1478.8,305.3 1474.2,306.4 1466.1,303.8 1457.6,296.2 1447.9,293.3 1445.1,288.6 1437.8,289.7 1434.5,291.3 1425.3,296.9 1417.8,296.5 1408.9,297.8 1402,300.4 1523,391.0 1520.7,398.9 1521.1,403.4 1518.8,410.0 1520.5,421.1 1515.1,429.0 1518.1,437.0 1519.2,445.3 1518.2,450.6 1521.4,456.6 1521.7,449.1 1518.8,438.0 1520.2,431.3 1519.7,424.2 1522.1,414.4 1523.2,405.7 1524.5,401.5 1522,390.4 1518,507.6 1519.1,517.6 1518.6,526.9 1518.5,536.3 1519.4,529.5 1524.6,519.5 1518.4,509.5 1514.7,589.4 1514.2,595.3 1515.7,606.4 1519,611.1 1516.9,618.1 1516.3,630.8 1518.9,636.6 1516.5,642.9 1518.3,634.8 1518.9,629.3 1519.8,622.4 1523.3,611.8 1524.2,606.7 1527.8,599.7 1519.7,588.6 1520.5,663.9 1525,722.4 1521.2,801.4 1516.1,805.4 1518.6,811.9 1522.2,805.8 1504.8,907.4 1507,916.4 1507.6,920.3 1513.7,927.9 1517.5,932.7 1517.7,945.7 1516.9,950.2 1511,959.1 1508.8,963.0 1500.2,966.8 1492.6,968.9 1483.8,966.8 1479.6,968.2 1469.6,973.7 1463.3,975.3 1454.8,976.3 1448.4,973.3 1439.3,966.4 1438.4,963.4 1431.5,967.6 1426.3,972.2 1418.9,975.6 1412.8,978.3 1403.4,976.9 1396,975.5 1385.8,978.0 1379.7,980.1 1371.5,979.0 1363.2,972.7 1357.9,977.1 1353.5,982.3 1353.2,983.0 1360.4,989.8 1368.1,990.3 1380.7,993.1 1388,993.8 1390.3,996.0 1398,1003.7 1405.7,1001.2 1405.8,992.1 1415.1,987.5 1418.6,984.0 1425.2,980.2 1434.3,980.8 1440.2,980.2 1450.9,979.4 1458,976.9 1464.3,978.8 1473.5,979.9 1484.8,984.3 1487.2,986.6 1493.2,990.3 1500.7,997.5 1506.9,1001.0 1511.4,1000.4 1517.3,993.6 1524.2,990.6 1523.6,984.0 1524,976.4 1525.6,967.5 1526.5,957.1 1523.9,947.5 1526.3,942.6 1523.9,937.0 1521,930.6 1509.4,924.7 1509.3,918.7 1506.6,910.8 1336.2,980.2 1326.4,972.8 1319.2,969.4 1319.1,963.4 1311.2,957.7 1303.8,960.5 1296.2,963.1 1288.4,959.2 1280.7,956.1 1275.6,952.6 1270.4,948.7 1264.8,951.9 1254.8,957.6 1248,959.0 1240.8,964.1 1233.1,969.4 1226.6,967.4 1217.6,962.9 1213.9,957.5 1209.6,948.6 1200,951.0 1197,952.5 1190.9,961.2 1185.2,964.7 1176.7,967.4 1171,968.3 1164.1,970.0 1156.7,964.6 1151.2,954.8 1148.2,958.6 1145.8,969.7 1143.2,978.3 1138.1,981.9 1133.8,987.0 1124.3,992.9 1123.3,993.1 1133.1,1001.7 1139.4,999.6 1141.6,997.9 1147.6,989.5 1150.5,983.5 1162,978.2 1169.1,976.6 1179.8,974.7 1185.1,975.4 1193.2,976.8 1198.7,980.4 1206.7,985.5 1216.2,987.0 1223.1,985.1 1222.9,980.7 1228.3,974.3 1238,970.5 1244.7,970.9 1252.6,971.2 1259.6,977.4 1267.2,980.1 1272.8,974.6 1279.8,969.5 1287.7,963.7 1290.4,964.6 1301.2,965.4 1309.1,964.5 1315.5,972.0 1320.2,975.1 1324.1,985.7 1334.4,981.7 1100.9,987.0 1093.6,979.3 1089.2,984.8 1079,989.8 1084.1,992.8 1088.9,993.0 1097.8,991.5 1048.3,979.3 1043.3,979.7 1037.8,974.4 1030.9,973.2 1020,975.1 1012.7,973.1 1007.3,975.5 1001.2,975.1 991.7,972.3 984.4,966.7 981.2,966.6 971,969.3 961.3,968.0 955.5,968.2 948.3,965.7 941,959.8 937.1,961.0 925.3,961.4 922.9,959.7 916.3,952.1 909.5,949.7 907.9,959.6 907.3,965.2 907.3,973.5 907,980.4 913.7,991.9 918.4,995.1 922.4,1000.5 930.6,1001.7 939.3,1004.5 946.9,996.2 953.1,993.4 958.2,990.9 969.3,990.7 973.4,985.0 980.7,981.8 987,981.6 995.6,978.3 1003.1,980.5 1008.9,982.9 1018,988.7 1021.2,999.0 1027.3,1000.2 1033.6,993.3 1037.7,987.0 1041.6,985.6 907.3,912.7 908.2,907.3 899.7,843.1 900.8,829.7 899.6,824.6 900.4,828.4 898.7,836.5 902.3,819.5 904.9,810.4 907.2,801.4 904.7,790.7 900.8,784.0 900,771.5 902.7,771.0 900.1,779.8 900.1,785.7 900.6,797.7 901.7,803.4 902.4,810.5 905.6,714.1 908.5,706.3 906.3,697.8 905.5,688.5 903.9,680.6 903.2,671.9 903.4,667.2 900.9,656.6 897.5,659.3 900.2,670.6 901.4,677.4 897.8,684.2 897.4,696.3 902.3,704.9 903.7,711.4 895.9,520.0 898.8,525.7 903.7,530.3 905.5,518.1 901.6,511.7 904.7,505.3 906.2,495.5 904.7,489.4 907.9,476.5 909.7,473.4 913.2,462.6 911.6,458.0 902.9,456.1 896.8,460.5 896.6,473.2 894.6,479.2 893.5,485.9 890.3,498.3 889,503.1 892.1,510.3 880.9,340.8 887.1,345.4 895.6,352.2 904.2,351.7 916.1,349.0 921.4,340.6 923.7,334.2 931.7,328.0 941.9,315.4 943.3,314.5 955.3,310.4 965.9,308.2 978.8,310.9 986.7,312.2 996.7,309.7 1011.1,315.2 1015.1,315.5 1027.9,317.4 1037.9,318.1 1043.1,321.2 1058.5,329.2 1065.9,334.2 1069.9,337.8 1077.6,342.8 1083.5,346.8 1094.8,352.4 1102.4,354.9 1110.7,356.3 1116.1,345.8 1125.1,340.6 1126,328.5 1119.4,324.4 1114.9,323.9 1100.4,327.3 1093.3,326.4 1084.9,326.1 1072,322.8 1064.2,322.7 1053.1,320.2 1044.5,317.6 1038.3,314.0 1029.6,304.0 1023.2,295.6 1018.9,289.1 1017.5,276.6 1018.5,265.8 1013.4,258.1 1005.8,253.3 1003.8,265.2 1002.3,270.1 992.5,278.9 981,284.1 975.5,284.8 966.3,286.4 953.3,292.7 946.9,297.4 932.2,299.4 929.3,301.6 919.9,306.9 910.7,313.2 899.6,310.5 890.5,317.7 887.7,326.2 882.8,331.4 1175.9,312.7 1178.4,316.9 1181.7,326.2 1193.9,327.1 1204.9,323.6 1211.5,324.4 1225.3,320.9 1230.3,320.8 1244,327.1 1249.2,332.1 1258.2,329.1 1265.5,321.2 1270.2,314.6 1260.1,311.7 1250.3,312.6 1243.4,306.8 1237.6,306.2 1227.3,304.5 1213,302.6 1205.8,302.6 1197.4,307.5 1188.4,312.3 1177.9,309.4 1294.1,296.7 1300.1,296.9 1292.3,295.0 1342.6,304.1 1345.4,311.4 1354.5,308.1 1359.9,301.2 1352.6,294.7 1340.9,301.2 1429,301.8 1441.7,301.4 1450.2,306.6 1459.4,312.0 1463.6,321.1 1473.5,316.5 1481,319.6 1490,324.1 1500.4,334.1 1509.8,340.5 1508.4,330.6 1511.9,321.6 1512.7,312.8 1511.3,300.4 1508.1,295.9 1502.9,290.2 1498.6,297.5 1490.3,307.8 1481,311.9 1468.4,308.9 1459.9,305.0 1451.5,296.1 1447.6,295.8 1433.8,296.3 1520.5,603.3 1519.2,950.4 1511.8,964.1 1508.5,965.8 1498.1,970.5 1491.3,971.5 1478.2,971.2 1487.7,977.5 1498.5,985.3 1504.2,992.1 1510,993.4 1517,987.9 1521.9,976.1 1521.7,970.0 1525,956.6 1442.6,974.9 1434.6,969.6 1425.8,974.5 1440,976.9 1404.9,980.0 1395.7,977.5 1384.9,982.7 1377.6,980.6 1371,981.3 1365.6,984.8 1370.7,985.0 1384.3,989.6 1394.2,992.7 1399,999.5 1406.8,988.1 1283.9,964.9 1272.2,952.5 1266.1,959.6 1249.9,965.6 1251.4,966.2 1259.8,970.4 1267.8,975.0 1275,967.0 1219.8,969.0 1213,964.3 1204.6,954.8 1200.9,958.1 1193.1,966.4 1185.1,969.4 1185.7,970.7 1198.8,974.2 1203.9,982.0 1214.9,981.7 1220,980.4 1164.5,971.8 1153.7,968.3 1146.4,973.1 1143.5,983.7 1135.8,991.5 1131.7,996.1 1139,989.1 1144,983.1 1158.7,977.2 1038.5,979.1 1025.8,980.5 1016.1,978.8 1019.7,981.4 1025.5,992.6 1035.3,986.1 984,972.4 979.1,970.9 968.1,971.4 962.5,975.0 954.1,971.6 941.1,965.7 933.4,966.8 923.9,964.4 912.2,958.6 912.9,968.6 912,973.3 913.2,985.3 920.1,990.5 927.2,996.4 936.5,998.3 946.1,993.4 954.9,987.9 962.3,984.2 968.2,981.4 981.6,978.3 897.6,515.9 896.6,506.2 900.3,497.1 901.6,485.5 906.2,477.5 908.3,472.9 907.1,460.3 900.4,465.9 897.7,474.3 896.1,485.8 891.7,497.2 896.1,511.2"/>

</g>
<g id="main-axes" stroke="#262626" stroke-width="3.2" fill="none" stroke-linecap="butt">
<rect x="177" y="35.5" width="1539.5" height="1214"/>
<path d="M278.4 1249.5v-17.3M278.4 35.5v17.3M458.9 1249.5v-17.3M458.9 35.5v17.3M639.3 1249.5v-17.3M639.3 35.5v17.3M819.8 1249.5v-17.3M819.8 35.5v17.3M1000.2 1249.5v-17.3M1000.2 35.5v17.3M1180.7 1249.5v-17.3M1180.7 35.5v17.3M1361.2 1249.5v-17.3M1361.2 35.5v17.3M1541.6 1249.5v-17.3M1541.6 35.5v17.3M177.0 1147.5h17.3M1716.5 1147.5h-17.3M177.0 1005.2h17.3M1716.5 1005.2h-17.3M177.0 862.8h17.3M1716.5 862.8h-17.3M177.0 720.5h17.3M1716.5 720.5h-17.3M177.0 578.1h17.3M1716.5 578.1h-17.3M177.0 435.8h17.3M1716.5 435.8h-17.3M177.0 293.4h17.3M1716.5 293.4h-17.3M177.0 151.1h17.3M1716.5 151.1h-17.3"/>
</g>
<g id="main-ticklabels">
<text transform="translate(276.4 1318.8) scale(0.968 1)" font-size="48.8" fill="#262626" text-anchor="middle">-100</text>
<text transform="translate(458.4 1318.8) scale(0.968 1)" font-size="48.8" fill="#262626" text-anchor="middle">0</text>
<text transform="translate(638.8 1318.8) scale(0.968 1)" font-size="48.8" fill="#262626" text-anchor="middle">100</text>
<text transform="translate(819.3 1318.8) scale(0.968 1)" font-size="48.8" fill="#262626" text-anchor="middle">200</text>
<text transform="translate(999.7 1318.8) scale(0.968 1)" font-size="48.8" fill="#262626" text-anchor="middle">300</text>
<text transform="translate(1180.2 1318.8) scale(0.968 1)" font-size="48.8" fill="#262626" text-anchor="middle">400</text>
<text transform="translate(1360.7 1318.8) scale(0.968 1)" font-size="48.8" fill="#262626" text-anchor="middle">500</text>
<text transform="translate(1541.1 1318.8) scale(0.968 1)" font-size="48.8" fill="#262626" text-anchor="middle">600</text>
<text transform="translate(155.4 1167.0) scale(0.952 1)" font-size="50" fill="#262626" text-anchor="end">50</text>
<text transform="translate(155.4 1024.7) scale(0.952 1)" font-size="50" fill="#262626" text-anchor="end">100</text>
<text transform="translate(155.4 882.3) scale(0.952 1)" font-size="50" fill="#262626" text-anchor="end">150</text>
<text transform="translate(155.4 740.0) scale(0.952 1)" font-size="50" fill="#262626" text-anchor="end">200</text>
<text transform="translate(155.4 597.6) scale(0.952 1)" font-size="50" fill="#262626" text-anchor="end">250</text>
<text transform="translate(155.4 455.3) scale(0.952 1)" font-size="50" fill="#262626" text-anchor="end">300</text>
<text transform="translate(155.4 312.9) scale(0.952 1)" font-size="50" fill="#262626" text-anchor="end">350</text>
<text transform="translate(155.4 170.6) scale(0.952 1)" font-size="50" fill="#262626" text-anchor="end">400</text>
</g>
<text transform="translate(944.9 1388.9) scale(0.962 1)" font-size="54" fill="#262626" text-anchor="middle">X /cm</text>
<text transform="translate(50.0 645.8) rotate(-90) scale(0.959 1)" font-size="53" fill="#262626" text-anchor="middle">Y /cm</text>
<rect x="735.2" y="209" width="403.6" height="181.4" fill="none" stroke="#000" stroke-width="3"/>
<path d="M704.9 278.2L470 372.5" fill="none" stroke="#000" stroke-width="3.8" stroke-dasharray="29 16.8"/>
<path d="M439.2 384.6L478.4 347.6L473 371L491.8 384.6Z" fill="#000" stroke="#000" stroke-width="1"/>
<g id="inset">
<rect x="290.7" y="420.8" width="515.9" height="405.3" fill="#fff"/>
<g stroke="#262626" stroke-width="3.2" fill="none">
<rect x="290.7" y="420.8" width="515.9" height="405.3"/>
<path d="M300.3 826.1v-5.5M300.3 420.8v5.5M455.2 826.1v-5.5M455.2 420.8v5.5M610.1 826.1v-5.5M610.1 420.8v5.5M765.0 826.1v-5.5M765.0 420.8v5.5M290.7 766.1h5.5M806.6 766.1h-5.5M290.7 613.3h5.5M806.6 613.3h-5.5M290.7 460.5h5.5M806.6 460.5h-5.5"/>
</g>
<polyline fill="none" stroke="none" marker-start="url(#mS)" marker-mid="url(#mS)" marker-end="url(#mS)" points="459.3,473.4 469,492.2 333,549.7 415.7,537.8 438.4,541.5 492.9,538.5 379.8,574.4 293.4,586.3 450.3,573.6 504.1,589.3 359.2,617.7 540.7,523.6 554.2,444.4 555.7,460.8 598.3,448.9 596.8,462.3 644.6,444.4 686.4,436.9 710.3,435.4 728.3,459.3 635.6,498.2 670,498.2 759.7,513.1 705.1,523.6 577.4,526.6 647.6,595.3 590.1,608.7 559.4,602.8 752.2,590.8 770.1,602.8 782.1,608.7 731.3,578.9 620.7,472.8 696.9,472.8 314.4,647.9 309.9,639.0 429.4,689.8 456.3,682.3 474.3,689.8 496.7,686.8 511.6,671.8 504.1,656.9 375.6,761.5 393.6,754.0 395.1,776.4 404,743.6 432.4,792.9 517.6,804.8 504.1,767.5 532.5,779.4 293.4,773.4 306.9,791.4 351.7,772.0 309.9,713.7 290.5,737.6 540,816.8 619.8,667.4 722.9,688.3 712.4,718.2 741.6,722.6 766.2,728.6 799.1,652.4 784.1,644.9 775.2,764.5 675.1,791.4 609.3,761.5 631.7,782.4 574.9,767.5 564.5,786.9 685.5,704.7 652.6,701.7 577.9,734.6 769.2,694.3 694.5,743.6"/>
<polyline fill="none" stroke="none" marker-start="url(#mC)" marker-mid="url(#mC)" marker-end="url(#mC)" points="484,432.1 627.4,433.9 687.9,448.1 708.9,595.3 457.1,544.5 459.3,547.5 480.2,545.2 489.2,548.2 492.2,565.4 405.2,563.2 407,566.1 309.1,602.0 339,599.0 388.3,600.5 422.7,596.8 430.9,590.1 462.3,599.8 495.2,608.7 523.6,584.1 540,534.0 672.2,440.6 728,435.7 661,469.8 567.6,488.0 611.7,475.7 617.4,494.0 682.7,492.9 557.6,522.8 622.9,528.0 684.9,537.8 738.7,528.8 605.4,555.7 567.6,549.0 577.4,560.9 572.9,571.4 660.3,556.4 677.5,570.6 671.5,574.4 735,560.9 737.2,566.9 674.5,596.8 677.5,605.7 731.3,600.5 544.5,534.0 543,584.8 560.9,619.2 404.8,644.9 375.6,650.9 351.7,650.9 353.2,659.9 348.7,677.8 382.4,674.8 315.9,687.5 430.9,659.9 426.4,671.8 453.3,655.4 451.8,661.4 483.2,647.9 480.2,671.8 531,667.4 537,674.8 540,659.9 329.3,707.7 339.8,710.7 350.2,704.7 332.3,719.7 342.8,722.6 326.3,731.6 336.8,737.6 347.2,734.6 303.2,740.6 318.9,749.5 329.3,754.0 317.4,764.5 330.8,767.5 342.8,757.0 324.8,779.4 393.6,712.2 410,718.2 386.1,728.6 448.9,724.9 519.1,718.2 534,719.7 492.2,747.3 519.1,745.1 534,757.0 354.7,794.4 335.3,807.8 342.8,803.3 350.2,819.8 345.7,824.3 666.1,641.2 688.5,645.7 657.9,665.9 655.6,661.4 739.3,665.1 767,672.6 787.1,681.6 610.8,685.3 607.8,680.8 628.7,680.8 600.3,708.4 628.7,705.5 674.3,695.7 618.3,729.4 631.7,740.6 663.1,731.6 679.5,736.1 685.5,737.6 673.6,734.6 772.9,711.4 791.6,743.6 740.8,754.0 795.3,774.9 796.8,793.6 788.6,813.0 643.7,769.0 651.1,763.0 668.3,771.2 651.9,813.0 567.5,740.6 567.5,644.9 572,659.9 574.9,670.3 569,682.3 564.5,704.7 385.3,615.9 457.8,610.7 463.8,604.7 335.3,627.9 429.4,623.4 522.1,623.4 496.7,621.1 478.7,618.2 484.7,646.6 481.7,654.0 738.7,631.6 764.1,630.1 735.7,628.6 584.8,628.6 551,624.0 554.6,620.9 553.7,629.5 561.2,623.0 569.2,628.5 564.2,632.8 553.8,626.5 564.3,654.3 565.5,651.0 572.8,657.4 570,641.7 570.3,652.5 529.4,671.6 532.9,674.8 536.9,671.7 531,670.1 531.9,671.9 537.7,676.4 568.6,703.7 561.7,703.2 564,709.6 562.8,704.6 563.1,706.0 609.4,682.4 609.1,684.1 460.3,546.6 459.4,548.1 464.3,602.6 466.9,605.4 464,613.2 348.1,708.0 337.5,728.4 347.8,738.2 337.3,716.3 346.6,708.3 338.4,738.8 336.9,719.1 353.4,725.7 344.8,705.5 345.7,710.0 345.7,720.5 344.7,723.6 349.3,717.0 333.7,708.6 331.9,748.1 327.4,760.3 338.5,756.3 331.4,739.8 323.2,745.8 334.3,739.9 323.9,754.2 335.2,763.4"/>
<polyline fill="none" stroke="none" marker-start="url(#mA)" marker-mid="url(#mA)" marker-end="url(#mA)" points="709.6,463.0 684.2,469.8 629.7,525.1 716.3,602.0 457.1,544.5 459.3,547.5 480.2,545.2 489.2,548.2 492.2,565.4 405.2,563.2 407,566.1 309.1,602.0 339,599.0 388.3,600.5 422.7,596.8 430.9,590.1 462.3,599.8 495.2,608.7 523.6,584.1 540,534.0 672.2,440.6 728,435.7 661,469.8 567.6,488.0 611.7,475.7 617.4,494.0 682.7,492.9 557.6,522.8 622.9,528.0 684.9,537.8 738.7,528.8 605.4,555.7 567.6,549.0 577.4,560.9 572.9,571.4 660.3,556.4 677.5,570.6 671.5,574.4 735,560.9 737.2,566.9 674.5,596.8 677.5,605.7 731.3,600.5 544.5,534.0 543,584.8 560.9,619.2 404.8,644.9 375.6,650.9 351.7,650.9 353.2,659.9 348.7,677.8 382.4,674.8 315.9,687.5 430.9,659.9 426.4,671.8 453.3,655.4 451.8,661.4 483.2,647.9 480.2,671.8 531,667.4 537,674.8 540,659.9 329.3,707.7 339.8,710.7 350.2,704.7 332.3,719.7 342.8,722.6 326.3,731.6 336.8,737.6 347.2,734.6 303.2,740.6 318.9,749.5 329.3,754.0 317.4,764.5 330.8,767.5 342.8,757.0 324.8,779.4 393.6,712.2 410,718.2 386.1,728.6 448.9,724.9 519.1,718.2 534,719.7 492.2,747.3 519.1,745.1 534,757.0 354.7,794.4 335.3,807.8 342.8,803.3 350.2,819.8 345.7,824.3 666.1,641.2 688.5,645.7 657.9,665.9 655.6,661.4 739.3,665.1 767,672.6 787.1,681.6 610.8,685.3 607.8,680.8 628.7,680.8 600.3,708.4 628.7,705.5 674.3,695.7 618.3,729.4 631.7,740.6 663.1,731.6 679.5,736.1 685.5,737.6 673.6,734.6 772.9,711.4 791.6,743.6 740.8,754.0 795.3,774.9 796.8,793.6 788.6,813.0 643.7,769.0 651.1,763.0 668.3,771.2 651.9,813.0 567.5,740.6 567.5,644.9 572,659.9 574.9,670.3 569,682.3 564.5,704.7 385.3,615.9 457.8,610.7 463.8,604.7 335.3,627.9 429.4,623.4 522.1,623.4 496.7,621.1 478.7,618.2 484.7,646.6 481.7,654.0 738.7,631.6 764.1,630.1 735.7,628.6 584.8,628.6 551,624.0 554.6,620.9 553.7,629.5 561.2,623.0 569.2,628.5 564.2,632.8 553.8,626.5 564.3,654.3 565.5,651.0 572.8,657.4 570,641.7 570.3,652.5 529.4,671.6 532.9,674.8 536.9,671.7 531,670.1 531.9,671.9 537.7,676.4 568.6,703.7 561.7,703.2 564,709.6 562.8,704.6 563.1,706.0 609.4,682.4 609.1,684.1 460.3,546.6 459.4,548.1 464.3,602.6 466.9,605.4 464,613.2 348.1,708.0 337.5,728.4 347.8,738.2 337.3,716.3 346.6,708.3 338.4,738.8 336.9,719.1 353.4,725.7 344.8,705.5 345.7,710.0 345.7,720.5 344.7,723.6 349.3,717.0 333.7,708.6 331.9,748.1 327.4,760.3 338.5,756.3 331.4,739.8 323.2,745.8 334.3,739.9 323.9,754.2 335.2,763.4"/>

<text transform="translate(299.3 897.3) scale(0.952 1)" font-size="50" fill="#262626" text-anchor="middle">260</text>
<text transform="translate(454.2 897.3) scale(0.952 1)" font-size="50" fill="#262626" text-anchor="middle">280</text>
<text transform="translate(609.1 897.3) scale(0.952 1)" font-size="50" fill="#262626" text-anchor="middle">300</text>
<text transform="translate(764.0 897.3) scale(0.952 1)" font-size="50" fill="#262626" text-anchor="middle">320</text>
<text transform="translate(268.9 785.1) scale(0.952 1)" font-size="50" fill="#262626" text-anchor="end">340</text>
<text transform="translate(268.9 632.3) scale(0.952 1)" font-size="50" fill="#262626" text-anchor="end">350</text>
<text transform="translate(268.9 479.5) scale(0.952 1)" font-size="50" fill="#262626" text-anchor="end">360</text>
</g>
<g id="legend">
<rect x="199.2" y="1012" width="587.8" height="202.5" fill="#fff" stroke="#262626" stroke-width="2.6"/>
<polyline fill="none" stroke="none" marker-start="url(#mS)" points="267.5,1049.4 267.5,1049.4"/>
<polyline fill="none" stroke="none" marker-start="url(#mC)" points="265.9,1111.8 265.9,1111.8"/>
<polyline fill="none" stroke="none" marker-start="url(#mA)" points="267.5,1177.4 267.5,1177.4"/>

<text transform="translate(331.0 1067.8) scale(0.952 1)" font-size="50" fill="#000" text-anchor="start">SRD</text>
<text transform="translate(331.0 1132.1) scale(0.952 1)" font-size="50" fill="#000" text-anchor="start">SRD+CKF</text>
<text transform="translate(331.0 1196.7) scale(0.952 1)" font-size="50" fill="#000" text-anchor="start">Improved SRD+CKF</text>
</g>
</svg></body></html>
